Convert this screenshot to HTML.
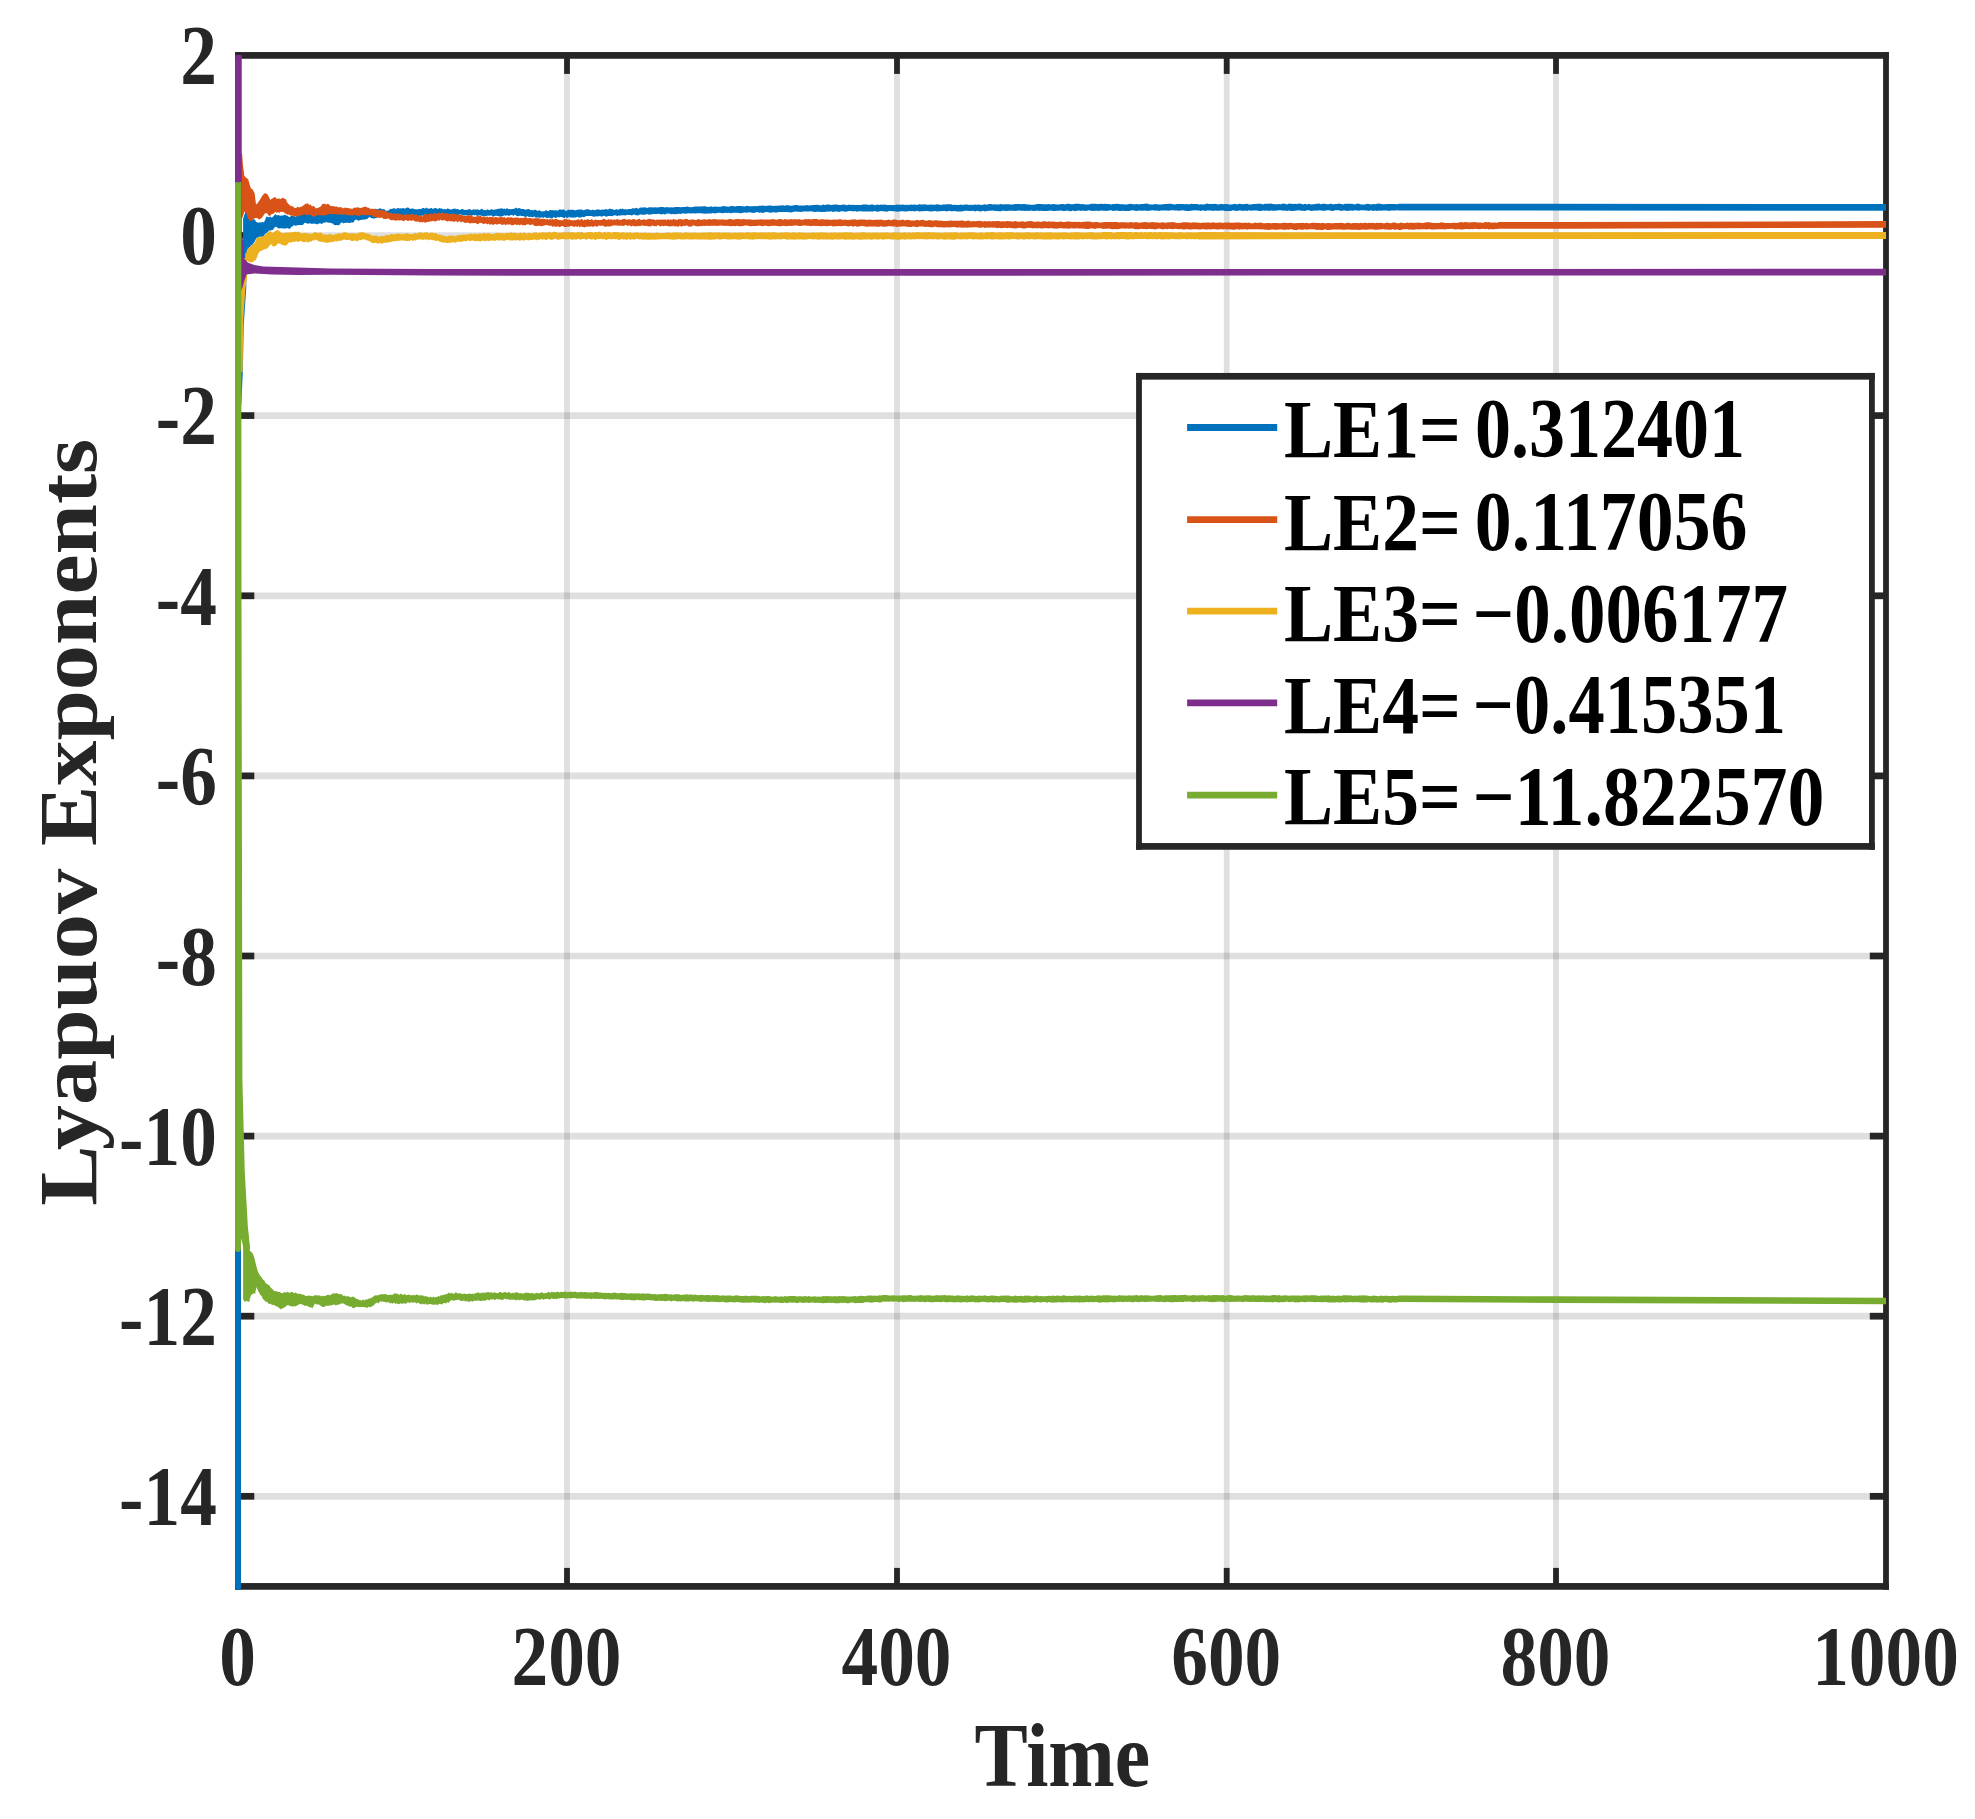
<!DOCTYPE html>
<html><head><meta charset="utf-8"><title>Lyapunov Exponents</title>
<style>
html,body{margin:0;padding:0;background:#fff;}
svg{display:block;}
.t{font-family:"Liberation Serif","DejaVu Serif",serif;font-weight:bold;fill:#262626;}
</style></head><body>
<svg width="1975" height="1819" viewBox="0 0 1975 1819">
<rect width="1975" height="1819" fill="#fff"/>
<line x1="567.0" x2="567.0" y1="55.4" y2="1586.4" stroke="#dfdfdf" stroke-width="5.8"/>
<line x1="897.0" x2="897.0" y1="55.4" y2="1586.4" stroke="#dfdfdf" stroke-width="5.8"/>
<line x1="1226.7" x2="1226.7" y1="55.4" y2="1586.4" stroke="#dfdfdf" stroke-width="5.8"/>
<line x1="1556.0" x2="1556.0" y1="55.4" y2="1586.4" stroke="#dfdfdf" stroke-width="5.8"/>
<line x1="238.1" x2="1886.0" y1="1496.3" y2="1496.3" stroke="#dfdfdf" stroke-width="6.7"/>
<line x1="238.1" x2="1886.0" y1="1316.2" y2="1316.2" stroke="#dfdfdf" stroke-width="6.7"/>
<line x1="238.1" x2="1886.0" y1="1136.1" y2="1136.1" stroke="#dfdfdf" stroke-width="6.7"/>
<line x1="238.1" x2="1886.0" y1="956.0" y2="956.0" stroke="#dfdfdf" stroke-width="6.7"/>
<line x1="238.1" x2="1886.0" y1="775.9" y2="775.9" stroke="#dfdfdf" stroke-width="6.7"/>
<line x1="238.1" x2="1886.0" y1="595.8" y2="595.8" stroke="#dfdfdf" stroke-width="6.7"/>
<line x1="238.1" x2="1886.0" y1="415.6" y2="415.6" stroke="#dfdfdf" stroke-width="6.7"/>
<line x1="238.1" x2="1886.0" y1="235.5" y2="235.5" stroke="#dfdfdf" stroke-width="6.7"/>
<rect x="564.1" y="1493.0" width="5.8" height="6.7" fill="#c4c4c4"/>
<rect x="564.1" y="1312.9" width="5.8" height="6.7" fill="#c4c4c4"/>
<rect x="564.1" y="1132.8" width="5.8" height="6.7" fill="#c4c4c4"/>
<rect x="564.1" y="952.6" width="5.8" height="6.7" fill="#c4c4c4"/>
<rect x="564.1" y="772.5" width="5.8" height="6.7" fill="#c4c4c4"/>
<rect x="564.1" y="592.4" width="5.8" height="6.7" fill="#c4c4c4"/>
<rect x="564.1" y="412.3" width="5.8" height="6.7" fill="#c4c4c4"/>
<rect x="564.1" y="232.2" width="5.8" height="6.7" fill="#c4c4c4"/>
<rect x="894.1" y="1493.0" width="5.8" height="6.7" fill="#c4c4c4"/>
<rect x="894.1" y="1312.9" width="5.8" height="6.7" fill="#c4c4c4"/>
<rect x="894.1" y="1132.8" width="5.8" height="6.7" fill="#c4c4c4"/>
<rect x="894.1" y="952.6" width="5.8" height="6.7" fill="#c4c4c4"/>
<rect x="894.1" y="772.5" width="5.8" height="6.7" fill="#c4c4c4"/>
<rect x="894.1" y="592.4" width="5.8" height="6.7" fill="#c4c4c4"/>
<rect x="894.1" y="412.3" width="5.8" height="6.7" fill="#c4c4c4"/>
<rect x="894.1" y="232.2" width="5.8" height="6.7" fill="#c4c4c4"/>
<rect x="1223.8" y="1493.0" width="5.8" height="6.7" fill="#c4c4c4"/>
<rect x="1223.8" y="1312.9" width="5.8" height="6.7" fill="#c4c4c4"/>
<rect x="1223.8" y="1132.8" width="5.8" height="6.7" fill="#c4c4c4"/>
<rect x="1223.8" y="952.6" width="5.8" height="6.7" fill="#c4c4c4"/>
<rect x="1223.8" y="772.5" width="5.8" height="6.7" fill="#c4c4c4"/>
<rect x="1223.8" y="592.4" width="5.8" height="6.7" fill="#c4c4c4"/>
<rect x="1223.8" y="412.3" width="5.8" height="6.7" fill="#c4c4c4"/>
<rect x="1223.8" y="232.2" width="5.8" height="6.7" fill="#c4c4c4"/>
<rect x="1553.1" y="1493.0" width="5.8" height="6.7" fill="#c4c4c4"/>
<rect x="1553.1" y="1312.9" width="5.8" height="6.7" fill="#c4c4c4"/>
<rect x="1553.1" y="1132.8" width="5.8" height="6.7" fill="#c4c4c4"/>
<rect x="1553.1" y="952.6" width="5.8" height="6.7" fill="#c4c4c4"/>
<rect x="1553.1" y="772.5" width="5.8" height="6.7" fill="#c4c4c4"/>
<rect x="1553.1" y="592.4" width="5.8" height="6.7" fill="#c4c4c4"/>
<rect x="1553.1" y="412.3" width="5.8" height="6.7" fill="#c4c4c4"/>
<rect x="1553.1" y="232.2" width="5.8" height="6.7" fill="#c4c4c4"/>
<line x1="567.0" x2="567.0" y1="1586.4" y2="1567.9" stroke="#262626" stroke-width="5.8"/>
<line x1="567.0" x2="567.0" y1="55.4" y2="73.9" stroke="#262626" stroke-width="5.8"/>
<line x1="897.0" x2="897.0" y1="1586.4" y2="1567.9" stroke="#262626" stroke-width="5.8"/>
<line x1="897.0" x2="897.0" y1="55.4" y2="73.9" stroke="#262626" stroke-width="5.8"/>
<line x1="1226.7" x2="1226.7" y1="1586.4" y2="1567.9" stroke="#262626" stroke-width="5.8"/>
<line x1="1226.7" x2="1226.7" y1="55.4" y2="73.9" stroke="#262626" stroke-width="5.8"/>
<line x1="1556.0" x2="1556.0" y1="1586.4" y2="1567.9" stroke="#262626" stroke-width="5.8"/>
<line x1="1556.0" x2="1556.0" y1="55.4" y2="73.9" stroke="#262626" stroke-width="5.8"/>
<line x1="238.1" x2="254.3" y1="1496.3" y2="1496.3" stroke="#262626" stroke-width="6.7"/>
<line x1="1886.0" x2="1869.8" y1="1496.3" y2="1496.3" stroke="#262626" stroke-width="6.7"/>
<line x1="238.1" x2="254.3" y1="1316.2" y2="1316.2" stroke="#262626" stroke-width="6.7"/>
<line x1="1886.0" x2="1869.8" y1="1316.2" y2="1316.2" stroke="#262626" stroke-width="6.7"/>
<line x1="238.1" x2="254.3" y1="1136.1" y2="1136.1" stroke="#262626" stroke-width="6.7"/>
<line x1="1886.0" x2="1869.8" y1="1136.1" y2="1136.1" stroke="#262626" stroke-width="6.7"/>
<line x1="238.1" x2="254.3" y1="956.0" y2="956.0" stroke="#262626" stroke-width="6.7"/>
<line x1="1886.0" x2="1869.8" y1="956.0" y2="956.0" stroke="#262626" stroke-width="6.7"/>
<line x1="238.1" x2="254.3" y1="775.9" y2="775.9" stroke="#262626" stroke-width="6.7"/>
<line x1="1886.0" x2="1869.8" y1="775.9" y2="775.9" stroke="#262626" stroke-width="6.7"/>
<line x1="238.1" x2="254.3" y1="595.8" y2="595.8" stroke="#262626" stroke-width="6.7"/>
<line x1="1886.0" x2="1869.8" y1="595.8" y2="595.8" stroke="#262626" stroke-width="6.7"/>
<line x1="238.1" x2="254.3" y1="415.6" y2="415.6" stroke="#262626" stroke-width="6.7"/>
<line x1="1886.0" x2="1869.8" y1="415.6" y2="415.6" stroke="#262626" stroke-width="6.7"/>
<line x1="238.1" x2="254.3" y1="235.5" y2="235.5" stroke="#262626" stroke-width="6.7"/>
<line x1="1886.0" x2="1869.8" y1="235.5" y2="235.5" stroke="#262626" stroke-width="6.7"/>
<rect x="235.20" y="52.05" width="1653.70" height="6.70" fill="#262626"/>
<rect x="235.20" y="1583.05" width="1653.70" height="6.70" fill="#262626"/>
<rect x="235.20" y="52.05" width="5.80" height="1537.70" fill="#262626"/>
<rect x="1883.10" y="52.05" width="5.80" height="1537.70" fill="#262626"/>
<line x1="238.1" x2="238.1" y1="1200.0" y2="1589.8" stroke="#0072bd" stroke-width="5.7"/>
<polygon fill="#0072bd" points="240.5,405 241.3,405 242.8,372 243.8,324 246.3,287.6 246.5,240 240.5,240"/>
<polygon fill="#0072bd" points="243.1,218.7 244.4,214.8 245.7,210.7 247.0,212.4 248.3,217.2 249.6,218.9 250.9,218.8 252.2,220.1 253.5,219.2 254.8,219.6 256.1,222.1 257.4,222.2 258.7,222.8 260.0,222.2 261.3,222.5 262.6,221.7 263.9,222.4 265.2,219.8 266.5,216.6 267.8,217.1 269.1,217.2 270.4,216.5 271.7,217.8 273.0,216.8 274.3,215.3 275.6,214.0 276.9,215.5 278.2,214.9 279.5,215.4 280.8,215.8 282.1,215.4 283.4,215.6 284.7,214.6 286.0,215.6 287.3,215.5 288.6,216.8 289.9,217.1 291.2,215.8 292.5,215.8 293.8,215.8 295.1,217.0 296.4,216.1 297.7,216.3 299.0,213.9 300.3,211.8 301.6,210.6 302.9,210.5 304.2,210.9 305.5,210.9 306.8,211.4 308.1,211.1 309.4,211.4 310.7,211.3 312.0,211.5 313.3,211.0 314.6,210.2 315.9,211.3 317.2,211.5 318.5,211.4 319.8,210.9 321.1,211.1 322.4,210.3 323.7,211.3 325.0,210.9 326.3,210.4 327.6,210.1 328.9,211.3 330.2,211.5 331.5,210.1 332.8,211.3 334.1,210.7 335.4,210.3 336.7,210.6 338.0,211.4 339.3,211.6 340.6,210.3 341.9,211.2 343.2,210.3 344.5,211.4 345.8,210.9 347.1,211.8 348.4,212.0 349.7,211.2 351.0,212.1 352.3,211.0 353.6,210.6 354.9,211.5 356.2,210.6 357.5,210.9 358.8,211.3 360.1,211.7 361.4,211.0 362.7,210.8 364.0,212.2 365.3,211.3 366.6,212.4 367.9,212.3 369.2,211.5 370.5,211.7 371.8,211.8 373.1,211.2 374.4,210.3 375.7,209.4 377.0,209.1 378.3,209.3 379.6,208.3 380.9,208.4 382.2,209.3 383.5,208.9 384.8,209.5 386.1,210.9 387.4,210.6 388.7,210.5 390.0,209.0 391.3,208.9 392.6,208.8 393.9,207.9 395.2,208.8 396.5,208.7 397.8,207.7 399.1,208.6 400.4,208.3 401.7,208.5 403.0,208.0 404.3,208.6 405.6,208.6 406.9,207.5 408.2,207.5 409.5,208.5 410.8,209.1 412.1,208.2 413.4,208.8 414.7,209.3 416.0,209.2 417.3,209.5 418.6,209.1 419.9,208.9 421.2,208.9 422.5,208.1 423.8,207.9 425.1,208.8 426.4,207.6 427.7,208.5 429.0,208.8 430.3,208.2 431.6,208.1 432.9,209.0 434.2,208.2 435.5,208.1 436.8,208.5 438.1,209.0 439.4,208.1 440.7,208.5 442.0,208.5 443.3,209.4 444.6,208.8 445.9,209.5 447.2,208.4 448.5,208.7 449.8,209.3 451.1,209.7 452.4,209.1 453.7,208.7 455.0,208.6 456.3,209.3 457.6,208.8 458.9,209.8 460.2,209.9 461.5,208.9 462.8,209.1 464.1,210.0 465.4,209.8 466.7,210.1 468.0,209.4 469.3,209.1 470.6,209.4 471.9,210.2 473.2,209.3 474.5,209.4 475.8,209.5 477.1,209.5 478.4,209.4 479.7,210.2 481.0,209.0 482.3,208.7 483.6,210.2 484.9,210.1 486.2,210.2 487.5,209.3 488.8,210.1 490.1,210.0 491.4,208.9 492.7,209.7 494.0,209.8 495.3,209.5 496.6,209.2 497.9,208.8 499.2,208.8 500.5,208.6 501.8,208.3 503.1,209.0 504.4,208.5 505.7,209.2 507.0,208.0 508.3,209.3 509.6,208.9 510.9,209.2 512.2,209.1 513.5,209.0 514.8,208.4 516.1,207.5 517.4,208.7 518.7,208.0 520.0,208.3 521.3,209.0 522.6,208.9 523.9,208.9 525.2,209.8 526.5,209.4 527.8,209.1 529.1,209.1 530.4,210.2 531.7,209.7 533.0,210.4 534.3,209.8 535.6,209.7 536.9,210.4 538.2,210.9 539.5,210.0 540.8,211.2 542.1,211.4 543.4,211.2 544.7,211.2 546.0,209.9 547.3,210.8 548.6,211.2 549.9,209.8 551.2,210.2 552.5,210.1 553.8,210.5 555.1,210.3 556.4,210.3 557.7,210.8 559.0,209.5 560.3,209.6 561.6,209.7 562.9,209.6 564.2,209.5 565.5,211.0 566.8,210.7 568.1,209.5 569.4,210.1 570.7,209.8 572.0,209.8 573.3,209.8 574.6,210.3 575.9,210.2 577.2,209.8 578.5,209.5 579.8,209.7 581.1,209.3 582.4,210.0 583.7,210.2 585.0,209.7 586.3,209.2 587.6,209.3 588.9,209.6 590.2,209.9 591.5,210.2 592.8,209.5 594.1,210.2 595.4,209.9 596.7,209.5 598.0,209.4 599.3,209.6 600.6,209.9 601.9,209.4 603.2,209.8 604.5,209.4 605.8,209.0 607.1,209.4 608.4,209.6 609.7,208.6 611.0,209.1 612.3,209.1 613.6,209.8 614.9,209.9 616.2,208.9 617.5,209.7 618.8,209.5 620.1,208.7 621.4,208.9 622.7,208.4 624.0,209.4 625.3,209.1 626.6,209.5 627.9,209.3 629.2,209.0 630.5,209.1 631.8,208.8 633.1,208.0 634.4,208.8 635.7,207.8 637.0,208.0 638.3,209.0 639.6,207.8 641.0,207.6 643.0,207.6 645.0,207.2 647.0,208.1 649.0,207.3 651.0,207.2 653.0,207.5 655.0,207.2 657.0,207.6 659.0,207.3 661.0,207.1 663.0,207.0 665.0,207.5 667.0,207.1 669.0,207.5 671.0,207.2 673.0,207.6 675.0,207.0 677.0,206.9 679.0,206.9 681.0,207.3 683.0,207.1 685.0,206.9 687.0,206.6 689.0,207.1 691.0,207.3 693.0,206.9 695.0,206.4 697.0,206.4 699.0,206.4 701.0,206.4 703.0,206.3 705.0,206.3 707.0,206.8 709.0,207.0 711.0,206.3 713.0,207.0 715.0,206.5 717.0,206.8 719.0,206.8 721.0,206.8 723.0,206.0 725.0,206.2 727.0,206.4 729.0,206.7 731.0,205.9 733.0,206.1 735.0,206.5 737.0,205.9 739.0,206.1 741.0,206.0 743.0,206.3 745.0,206.5 747.0,205.8 749.0,206.2 751.0,206.2 753.0,206.3 755.0,206.0 757.0,206.3 759.0,205.8 761.0,205.8 763.0,205.6 765.0,206.1 767.0,205.8 769.0,205.5 771.0,205.4 773.0,205.9 775.0,205.7 777.0,205.8 779.0,205.5 781.0,205.6 783.0,205.2 785.0,205.7 787.0,205.1 789.0,205.4 791.0,205.7 793.0,205.6 795.0,205.0 797.0,205.1 799.0,205.6 801.0,205.4 803.0,205.6 805.0,205.6 807.0,205.1 809.0,205.5 811.0,205.3 813.0,205.0 815.0,205.0 817.0,204.7 819.0,204.9 821.0,205.4 823.0,204.6 825.0,205.0 827.0,204.6 829.0,204.6 831.0,205.1 833.0,204.7 835.0,204.5 837.0,204.6 839.0,205.1 841.0,205.0 843.0,204.5 845.0,204.7 847.0,205.3 849.0,204.6 851.0,204.9 853.0,204.8 855.0,205.1 857.0,205.0 859.0,205.1 861.0,204.9 863.0,204.6 865.0,204.6 867.0,204.5 869.0,205.1 871.0,204.5 873.0,204.4 875.0,205.2 877.0,204.5 879.0,205.1 881.0,204.4 883.0,204.8 885.0,204.5 887.0,205.1 889.0,204.9 891.0,204.9 893.0,205.0 895.0,205.1 897.0,204.6 899.0,204.8 901.0,204.7 903.0,204.4 905.0,205.0 907.0,204.8 909.0,205.0 911.0,204.4 913.0,204.7 915.0,204.6 917.0,204.9 919.0,204.3 921.0,204.5 923.0,204.6 925.0,204.3 927.0,204.7 929.0,204.8 931.0,204.5 933.0,204.7 935.0,204.7 937.0,204.3 939.0,204.5 941.0,205.0 943.0,204.4 945.0,204.5 947.0,204.2 949.0,204.3 951.0,204.2 953.0,204.9 955.0,204.7 957.0,204.9 959.0,205.0 961.0,204.6 963.0,204.9 965.0,204.5 967.0,204.4 969.0,204.9 971.0,204.8 973.0,204.9 975.0,204.4 977.0,204.7 979.0,204.4 981.0,204.9 983.0,204.8 985.0,204.2 987.0,204.8 989.0,204.1 991.0,204.0 993.0,204.6 995.0,204.2 997.0,204.4 999.0,204.5 1001.0,204.0 1003.0,204.6 1005.0,204.2 1007.0,204.3 1009.0,204.2 1011.0,204.6 1013.0,204.6 1015.0,204.1 1017.0,204.0 1019.0,204.1 1021.0,204.2 1023.0,203.9 1025.0,204.0 1027.0,204.5 1029.0,204.5 1031.0,204.7 1033.0,204.7 1035.0,204.6 1037.0,204.1 1039.0,203.9 1041.0,204.1 1043.0,204.2 1045.0,204.2 1047.0,204.3 1049.0,204.1 1051.0,204.5 1053.0,204.0 1055.0,204.2 1057.0,204.5 1059.0,204.4 1061.0,204.0 1063.0,203.9 1065.0,204.4 1067.0,203.7 1069.0,203.8 1071.0,204.2 1073.0,204.2 1075.0,203.8 1077.0,203.7 1079.0,203.8 1081.0,204.3 1083.0,204.1 1085.0,204.5 1087.0,204.4 1089.0,204.5 1091.0,203.7 1093.0,203.8 1095.0,203.7 1097.0,204.0 1099.0,203.9 1101.0,203.7 1103.0,204.1 1105.0,203.7 1107.0,203.9 1109.0,203.9 1111.0,204.4 1113.0,204.0 1115.0,203.9 1117.0,203.7 1119.0,204.0 1121.0,204.2 1123.0,204.2 1125.0,204.5 1127.0,204.4 1129.0,203.9 1131.0,203.8 1133.0,204.3 1135.0,204.3 1137.0,204.1 1139.0,204.4 1141.0,204.1 1143.0,203.9 1145.0,203.8 1147.0,203.6 1149.0,204.2 1151.0,204.4 1153.0,204.4 1155.0,204.0 1157.0,204.2 1159.0,204.5 1161.0,204.4 1163.0,204.2 1165.0,204.0 1167.0,204.1 1169.0,203.8 1171.0,203.8 1173.0,204.2 1175.0,204.5 1177.0,204.1 1179.0,204.0 1181.0,203.9 1183.0,204.0 1185.0,204.3 1187.0,204.0 1189.0,204.5 1191.0,203.7 1193.0,203.9 1195.0,204.1 1197.0,204.0 1199.0,204.4 1201.0,204.3 1203.0,204.4 1205.0,204.2 1207.0,203.6 1209.0,204.1 1211.0,204.1 1213.0,204.0 1215.0,203.8 1217.0,204.2 1219.0,204.4 1221.0,203.7 1223.0,204.2 1225.0,203.9 1227.0,204.1 1229.0,204.4 1231.0,204.5 1233.0,204.2 1235.0,203.8 1237.0,204.4 1239.0,203.8 1241.0,203.9 1243.0,204.3 1245.0,203.9 1247.0,203.8 1249.0,204.4 1251.0,204.4 1253.0,203.9 1255.0,203.9 1257.0,203.8 1259.0,203.7 1261.0,203.8 1263.0,204.5 1265.0,203.7 1267.0,203.8 1269.0,203.8 1271.0,203.6 1273.0,204.0 1275.0,204.2 1277.0,204.3 1279.0,204.1 1281.0,204.3 1283.0,203.6 1285.0,203.8 1287.0,204.4 1289.0,203.6 1291.0,203.8 1293.0,204.0 1295.0,203.8 1297.0,204.1 1299.0,203.6 1301.0,203.8 1303.0,204.4 1305.0,203.7 1307.0,204.4 1309.0,203.7 1311.0,204.5 1313.0,204.2 1315.0,204.1 1317.0,203.7 1319.0,203.6 1321.0,204.2 1323.0,203.7 1325.0,203.7 1327.0,204.3 1329.0,204.3 1331.0,203.6 1333.0,204.4 1335.0,204.0 1337.0,203.9 1339.0,203.6 1341.0,203.9 1343.0,204.4 1345.0,203.8 1347.0,203.7 1349.0,203.7 1351.0,203.7 1353.0,203.9 1355.0,204.4 1357.0,203.6 1359.0,203.7 1361.0,204.4 1363.0,204.5 1365.0,204.4 1367.0,203.8 1369.0,203.9 1371.0,204.4 1373.0,204.0 1375.0,204.2 1377.0,203.8 1379.0,203.6 1381.0,203.9 1383.0,204.2 1385.0,204.3 1387.0,204.1 1389.0,204.0 1391.0,204.0 1393.0,204.0 1395.0,204.0 1397.0,204.3 1399.0,203.7 1886.0,204.1 1886.0,210.7 1399.0,210.4 1397.0,210.2 1395.0,210.5 1393.0,210.4 1391.0,210.5 1389.0,210.9 1387.0,210.6 1385.0,210.4 1383.0,210.5 1381.0,210.8 1379.0,210.6 1377.0,210.9 1375.0,210.5 1373.0,210.9 1371.0,210.2 1369.0,211.0 1367.0,210.4 1365.0,210.6 1363.0,210.2 1361.0,210.3 1359.0,210.8 1357.0,210.4 1355.0,210.2 1353.0,210.8 1351.0,210.4 1349.0,210.7 1347.0,211.0 1345.0,210.6 1343.0,210.5 1341.0,210.9 1339.0,210.2 1337.0,210.2 1335.0,210.3 1333.0,210.9 1331.0,210.7 1329.0,210.3 1327.0,210.3 1325.0,210.7 1323.0,210.8 1321.0,210.6 1319.0,210.3 1317.0,210.8 1315.0,210.6 1313.0,210.8 1311.0,211.0 1309.0,210.3 1307.0,210.3 1305.0,211.0 1303.0,210.8 1301.0,210.7 1299.0,210.2 1297.0,210.5 1295.0,210.8 1293.0,210.9 1291.0,211.0 1289.0,210.6 1287.0,210.9 1285.0,210.4 1283.0,210.7 1281.0,210.3 1279.0,210.2 1277.0,210.5 1275.0,210.7 1273.0,210.7 1271.0,210.4 1269.0,210.9 1267.0,210.6 1265.0,210.8 1263.0,210.6 1261.0,210.9 1259.0,211.0 1257.0,210.5 1255.0,210.6 1253.0,210.4 1251.0,210.8 1249.0,210.3 1247.0,210.9 1245.0,210.5 1243.0,211.1 1241.0,210.6 1239.0,210.4 1237.0,210.9 1235.0,210.8 1233.0,210.3 1231.0,211.0 1229.0,210.9 1227.0,210.9 1225.0,211.1 1223.0,210.4 1221.0,210.4 1219.0,210.7 1217.0,210.7 1215.0,210.4 1213.0,211.1 1211.0,210.4 1209.0,210.6 1207.0,210.6 1205.0,211.1 1203.0,210.3 1201.0,211.1 1199.0,210.5 1197.0,210.5 1195.0,210.3 1193.0,210.6 1191.0,210.7 1189.0,211.0 1187.0,211.0 1185.0,210.7 1183.0,210.3 1181.0,210.4 1179.0,210.7 1177.0,210.4 1175.0,210.6 1173.0,210.3 1171.0,210.3 1169.0,210.7 1167.0,210.6 1165.0,210.4 1163.0,210.6 1161.0,210.4 1159.0,210.9 1157.0,210.5 1155.0,210.7 1153.0,210.3 1151.0,210.6 1149.0,210.7 1147.0,210.9 1145.0,210.4 1143.0,210.7 1141.0,210.7 1139.0,210.5 1137.0,210.9 1135.0,210.8 1133.0,210.2 1131.0,210.5 1129.0,210.9 1127.0,211.0 1125.0,211.1 1123.0,210.7 1121.0,211.0 1119.0,211.0 1117.0,210.5 1115.0,210.7 1113.0,210.9 1111.0,210.3 1109.0,210.4 1107.0,211.0 1105.0,210.8 1103.0,210.7 1101.0,210.6 1099.0,211.0 1097.0,210.7 1095.0,210.7 1093.0,211.0 1091.0,210.7 1089.0,210.3 1087.0,210.8 1085.0,210.9 1083.0,210.6 1081.0,210.9 1079.0,210.4 1077.0,210.7 1075.0,211.2 1073.0,210.6 1071.0,211.2 1069.0,211.0 1067.0,210.5 1065.0,210.9 1063.0,211.1 1061.0,210.6 1059.0,210.8 1057.0,210.8 1055.0,211.1 1053.0,211.1 1051.0,210.4 1049.0,210.8 1047.0,210.9 1045.0,210.9 1043.0,210.9 1041.0,210.7 1039.0,211.1 1037.0,210.6 1035.0,211.0 1033.0,211.0 1031.0,210.6 1029.0,211.1 1027.0,210.7 1025.0,210.9 1023.0,210.8 1021.0,210.7 1019.0,210.6 1017.0,210.8 1015.0,211.1 1013.0,210.7 1011.0,210.7 1009.0,210.7 1007.0,210.9 1005.0,210.9 1003.0,210.6 1001.0,211.3 999.0,211.3 997.0,210.9 995.0,211.0 993.0,210.6 991.0,210.7 989.0,210.8 987.0,210.9 985.0,211.4 983.0,210.7 981.0,211.4 979.0,211.3 977.0,210.8 975.0,211.4 973.0,210.8 971.0,210.9 969.0,211.0 967.0,210.7 965.0,210.8 963.0,211.3 961.0,211.4 959.0,211.5 957.0,211.4 955.0,211.0 953.0,211.2 951.0,211.2 949.0,210.8 947.0,211.5 945.0,211.0 943.0,210.9 941.0,211.2 939.0,211.3 937.0,211.6 935.0,211.0 933.0,211.2 931.0,211.5 929.0,211.2 927.0,211.0 925.0,210.9 923.0,211.3 921.0,211.3 919.0,211.6 917.0,210.8 915.0,211.4 913.0,210.9 911.0,211.2 909.0,211.0 907.0,211.6 905.0,211.4 903.0,211.2 901.0,211.2 899.0,211.6 897.0,211.7 895.0,211.3 893.0,211.3 891.0,210.9 889.0,211.0 887.0,211.8 885.0,211.6 883.0,211.3 881.0,211.0 879.0,211.6 877.0,211.8 875.0,211.0 873.0,211.4 871.0,211.6 869.0,211.5 867.0,211.4 865.0,211.5 863.0,211.4 861.0,211.3 859.0,211.2 857.0,211.8 855.0,211.0 853.0,211.4 851.0,211.1 849.0,211.1 847.0,211.6 845.0,211.8 843.0,211.2 841.0,211.3 839.0,211.9 837.0,211.5 835.0,211.4 833.0,211.9 831.0,211.2 829.0,211.7 827.0,211.5 825.0,212.0 823.0,211.9 821.0,211.9 819.0,211.8 817.0,211.7 815.0,212.1 813.0,211.7 811.0,211.3 809.0,211.6 807.0,211.6 805.0,211.4 803.0,211.5 801.0,212.0 799.0,211.8 797.0,211.7 795.0,211.6 793.0,212.1 791.0,212.4 789.0,212.2 787.0,212.0 785.0,212.0 783.0,212.1 781.0,212.0 779.0,212.1 777.0,212.4 775.0,212.6 773.0,212.2 771.0,212.7 769.0,212.4 767.0,212.1 765.0,212.3 763.0,212.9 761.0,212.4 759.0,212.8 757.0,212.1 755.0,212.8 753.0,212.9 751.0,212.5 749.0,212.2 747.0,212.8 745.0,212.6 743.0,212.7 741.0,213.2 739.0,213.1 737.0,212.8 735.0,212.8 733.0,212.8 731.0,213.3 729.0,212.7 727.0,213.1 725.0,212.8 723.0,213.2 721.0,213.0 719.0,212.7 717.0,212.9 715.0,213.6 713.0,213.0 711.0,213.5 709.0,213.5 707.0,213.6 705.0,213.7 703.0,213.4 701.0,213.2 699.0,213.2 697.0,213.3 695.0,213.5 693.0,213.3 691.0,213.6 689.0,213.2 687.0,213.6 685.0,213.7 683.0,213.3 681.0,214.0 679.0,213.8 677.0,214.0 675.0,214.3 673.0,214.1 671.0,214.2 669.0,213.5 667.0,213.6 665.0,214.4 663.0,214.0 661.0,214.5 659.0,213.7 657.0,213.9 655.0,214.0 653.0,214.0 651.0,214.6 649.0,214.7 647.0,214.1 645.0,214.7 643.0,214.8 641.0,214.6 639.6,214.5 638.3,215.6 637.0,215.2 635.7,215.3 634.4,214.6 633.1,214.7 631.8,215.4 630.5,215.0 629.2,214.9 627.9,214.8 626.6,215.1 625.3,215.5 624.0,215.2 622.7,215.3 621.4,215.3 620.1,215.8 618.8,215.3 617.5,216.3 616.2,215.5 614.9,215.2 613.6,215.5 612.3,216.2 611.0,216.1 609.7,215.9 608.4,215.9 607.1,216.5 605.8,216.8 604.5,215.7 603.2,216.1 601.9,216.7 600.6,216.3 599.3,216.0 598.0,216.6 596.7,216.3 595.4,216.5 594.1,216.8 592.8,216.5 591.5,216.0 590.2,216.1 588.9,216.0 587.6,216.0 586.3,216.1 585.0,216.7 583.7,217.2 582.4,216.8 581.1,217.5 579.8,217.6 578.5,217.5 577.2,216.8 575.9,217.5 574.6,217.5 573.3,217.8 572.0,217.4 570.7,217.8 569.4,216.7 568.1,217.6 566.8,218.0 565.5,217.1 564.2,218.2 562.9,217.6 561.6,216.9 560.3,217.1 559.0,217.4 557.7,216.9 556.4,217.8 555.1,218.1 553.8,217.1 552.5,218.3 551.2,218.4 549.9,217.8 548.6,217.7 547.3,218.0 546.0,217.8 544.7,217.1 543.4,217.9 542.1,217.3 540.8,217.7 539.5,217.7 538.2,217.5 536.9,217.6 535.6,217.7 534.3,216.3 533.0,217.4 531.7,217.0 530.4,216.7 529.1,217.2 527.8,216.2 526.5,216.6 525.2,217.0 523.9,216.3 522.6,216.1 521.3,215.9 520.0,215.5 518.7,216.3 517.4,216.1 516.1,215.8 514.8,214.6 513.5,215.9 512.2,215.1 510.9,215.1 509.6,215.8 508.3,215.8 507.0,215.3 505.7,215.7 504.4,215.3 503.1,216.1 501.8,216.4 500.5,216.6 499.2,216.6 497.9,216.1 496.6,215.8 495.3,215.8 494.0,216.6 492.7,216.6 491.4,215.5 490.1,215.5 488.8,215.7 487.5,215.4 486.2,216.5 484.9,215.7 483.6,216.3 482.3,215.9 481.0,215.6 479.7,215.4 478.4,215.4 477.1,216.0 475.8,215.1 474.5,215.5 473.2,214.7 471.9,216.0 470.6,215.1 469.3,214.9 468.0,215.0 466.7,215.6 465.4,215.3 464.1,215.6 462.8,215.5 461.5,214.5 460.2,214.6 458.9,214.8 457.6,215.0 456.3,215.3 455.0,215.1 453.7,215.2 452.4,215.4 451.1,214.7 449.8,214.4 448.5,215.6 447.2,214.3 445.9,215.2 444.6,215.5 443.3,214.3 442.0,215.0 440.7,215.1 439.4,214.3 438.1,215.0 436.8,215.2 435.5,215.3 434.2,214.7 432.9,215.0 431.6,214.4 430.3,215.1 429.0,215.4 427.7,215.9 426.4,215.6 425.1,214.8 423.8,215.7 422.5,215.5 421.2,216.1 419.9,215.5 418.6,216.3 417.3,216.3 416.0,215.7 414.7,216.6 413.4,215.3 412.1,216.6 410.8,216.6 409.5,215.4 408.2,216.3 406.9,215.7 405.6,215.4 404.3,216.1 403.0,215.9 401.7,216.8 400.4,216.2 399.1,215.6 397.8,216.1 396.5,216.0 395.2,215.9 393.9,215.4 392.6,216.5 391.3,216.3 390.0,216.0 388.7,215.9 387.4,216.8 386.1,215.6 384.8,215.6 383.5,216.7 382.2,216.2 380.9,216.2 379.6,217.3 378.3,216.5 377.0,217.8 375.7,218.0 374.4,218.6 373.1,218.6 371.8,218.3 370.5,217.4 369.2,217.1 367.9,218.6 366.6,219.2 365.3,219.3 364.0,219.8 362.7,219.5 361.4,219.9 360.1,220.1 358.8,220.7 357.5,220.2 356.2,219.4 354.9,220.0 353.6,222.5 352.3,222.4 351.0,222.6 349.7,223.1 348.4,223.1 347.1,222.6 345.8,222.9 344.5,222.7 343.2,223.6 341.9,222.3 340.6,223.3 339.3,225.2 338.0,225.2 336.7,224.9 335.4,225.3 334.1,224.9 332.8,223.6 331.5,223.3 330.2,222.8 328.9,222.8 327.6,222.6 326.3,222.0 325.0,222.8 323.7,222.4 322.4,223.8 321.1,223.7 319.8,223.3 318.5,223.8 317.2,224.5 315.9,223.8 314.6,223.7 313.3,223.4 312.0,224.0 310.7,223.4 309.4,223.3 308.1,223.8 306.8,223.4 305.5,222.7 304.2,223.3 302.9,224.9 301.6,224.9 300.3,224.9 299.0,224.9 297.7,225.2 296.4,225.6 295.1,225.7 293.8,225.1 292.5,226.6 291.2,227.0 289.9,228.9 288.6,228.5 287.3,227.9 286.0,228.6 284.7,228.6 283.4,228.6 282.1,228.3 280.8,228.2 279.5,228.6 278.2,228.3 276.9,227.3 275.6,226.8 274.3,227.8 273.0,229.7 271.7,230.2 270.4,230.5 269.1,230.4 267.8,232.1 266.5,233.0 265.2,233.4 263.9,235.8 262.6,236.4 261.3,237.1 260.0,236.2 258.7,237.6 257.4,237.5 256.1,238.4 254.8,241.5 253.5,243.3 252.2,245.1 250.9,245.5 249.6,248.2 248.3,248.4 247.0,250.2 245.7,256.2 244.4,254.1 243.1,249.3"/>
<polygon fill="#d95319" points="239.5,153.5 242.1,154.1 243.0,165.3 244.3,175.8 245.6,177.3 246.9,178.2 248.2,179.2 249.5,184.1 250.8,188.0 252.1,188.9 253.4,190.7 254.7,193.5 256.0,204.4 257.3,203.5 258.6,201.7 259.9,199.8 261.2,197.5 262.5,195.4 263.8,194.0 265.1,193.0 266.4,193.8 267.7,194.4 269.0,197.3 270.3,200.0 271.6,198.8 272.9,198.2 274.2,197.3 275.5,197.0 276.8,199.1 278.1,198.4 279.4,198.5 280.7,199.3 282.0,197.7 283.3,198.1 284.6,198.8 285.9,199.3 287.2,202.5 288.5,204.0 289.8,205.2 291.1,206.3 292.4,205.9 293.7,207.3 295.0,207.9 296.3,207.9 297.6,206.5 298.9,207.5 300.2,206.9 301.5,206.8 302.8,205.7 304.1,204.9 305.4,203.8 306.7,203.8 308.0,203.3 309.3,205.2 310.6,204.3 311.9,206.5 313.2,206.0 314.5,206.6 315.8,208.5 317.1,207.9 318.4,207.8 319.7,206.9 321.0,206.2 322.3,204.1 323.6,203.9 324.9,203.5 326.2,204.7 327.5,203.7 328.8,204.3 330.1,205.7 331.4,206.3 332.7,205.8 334.0,206.5 335.3,206.6 336.6,206.6 337.9,207.0 339.2,207.6 340.5,207.0 341.8,207.6 343.1,208.4 344.4,207.6 345.7,208.0 347.0,207.7 348.3,207.9 349.6,208.4 350.9,208.6 352.2,208.9 353.5,208.1 354.8,207.6 356.1,207.7 357.4,207.2 358.7,207.5 360.0,207.9 361.3,207.9 362.6,207.2 363.9,206.9 365.2,206.6 366.5,206.9 367.8,207.7 369.1,207.7 370.4,209.0 371.7,208.8 373.0,208.7 374.3,209.0 375.6,208.6 376.9,209.9 378.2,210.1 379.5,209.7 380.8,210.4 382.1,209.9 383.4,210.3 384.7,210.7 386.0,211.0 387.3,212.0 388.6,212.5 389.9,213.0 391.2,212.4 392.5,213.8 393.8,213.4 395.1,213.4 396.4,213.7 397.7,213.8 399.0,213.5 400.3,214.0 401.6,214.5 402.9,214.6 404.2,214.9 405.5,213.6 406.8,214.7 408.1,214.5 409.4,214.3 410.7,214.6 412.0,213.2 413.3,214.4 414.6,214.9 415.9,213.9 417.2,214.9 418.5,215.8 419.8,215.0 421.1,216.1 422.4,216.5 423.7,214.6 425.0,214.0 426.3,213.9 427.6,214.8 428.9,214.0 430.2,213.6 431.5,213.7 432.8,214.3 434.1,213.1 435.4,212.6 436.7,213.9 438.0,212.8 439.3,212.7 440.6,213.6 441.9,212.6 443.2,212.4 444.5,213.8 445.8,212.9 447.1,213.0 448.4,214.3 449.7,213.3 451.0,214.5 452.3,213.7 453.6,213.8 454.9,213.8 456.2,214.4 457.5,214.6 458.8,214.5 460.1,214.8 461.4,214.6 462.7,215.6 464.0,215.9 465.3,215.7 466.6,215.9 467.9,214.9 469.2,215.3 470.5,215.3 471.8,215.3 473.1,216.7 474.4,216.7 475.7,216.8 477.0,216.3 478.3,215.7 479.6,216.3 480.9,215.8 482.2,217.2 483.5,216.3 484.8,216.4 486.1,217.6 487.4,216.4 488.7,217.6 490.0,216.7 491.3,217.3 492.6,216.5 493.9,217.8 495.2,217.0 496.5,217.0 497.8,217.6 499.1,217.5 500.4,217.0 501.7,216.9 503.0,217.6 504.3,216.8 505.6,218.2 506.9,217.4 508.2,217.2 509.5,217.5 510.8,217.2 512.1,217.6 513.4,217.9 514.7,217.7 516.0,217.6 517.3,217.5 518.6,217.8 519.9,218.3 521.2,217.7 522.5,218.3 523.8,217.8 525.1,217.2 526.4,217.3 527.7,218.5 529.0,218.0 530.3,217.9 531.6,218.2 532.9,218.8 534.2,218.2 535.5,218.2 536.8,218.3 538.1,217.9 539.4,218.8 540.7,218.8 542.0,218.9 543.3,218.8 544.6,218.9 545.9,219.4 547.2,218.6 548.5,219.9 549.8,218.5 551.1,219.8 552.4,218.7 553.7,219.8 555.0,218.9 556.3,218.7 557.6,219.5 558.9,220.0 560.2,220.1 561.5,220.2 562.8,220.3 564.1,218.9 565.4,219.4 566.7,219.0 568.0,220.1 569.3,219.6 570.6,220.1 571.9,220.2 573.2,220.5 574.5,220.0 575.8,220.3 577.1,219.8 578.4,219.1 579.7,220.4 581.0,219.1 582.3,219.2 583.6,220.4 584.9,219.5 586.2,220.1 587.5,219.1 588.8,219.4 590.1,220.2 591.4,219.1 592.7,219.8 594.0,220.5 595.3,219.3 596.6,220.1 597.9,220.1 599.2,219.9 600.5,220.1 601.8,220.0 603.1,218.8 604.4,219.1 605.7,219.6 607.0,220.3 608.3,219.1 609.6,219.7 610.9,218.9 612.2,220.0 613.5,219.4 614.8,219.5 616.1,219.7 617.4,218.8 618.7,219.8 620.0,219.8 621.3,219.9 622.6,219.0 623.9,219.0 625.2,218.8 626.5,220.0 627.8,219.3 629.1,219.2 630.4,219.4 631.7,219.7 633.0,219.1 634.3,219.1 635.6,219.8 636.9,219.9 638.2,219.1 639.5,218.7 640.8,220.1 642.1,219.8 643.4,219.6 644.7,219.3 646.0,220.2 647.3,219.3 648.6,219.0 649.9,218.8 651.2,219.2 652.5,219.6 653.8,219.2 655.1,220.2 656.4,219.7 657.7,219.4 659.0,219.7 660.3,219.6 661.6,219.7 662.9,219.5 664.2,219.5 665.5,219.5 666.8,220.0 668.1,219.0 669.4,220.0 670.7,219.2 672.0,220.1 673.3,218.8 674.6,219.5 675.9,219.4 677.2,219.9 678.5,219.1 679.8,219.2 681.1,219.0 682.4,219.6 683.7,219.7 685.0,218.8 686.3,219.0 687.6,219.1 688.9,220.3 690.2,219.5 691.5,219.7 692.8,219.2 694.1,219.8 695.4,220.1 696.7,219.9 698.0,218.8 699.3,219.5 701.0,219.7 703.0,219.6 705.0,219.3 707.0,219.7 709.0,219.1 711.0,219.6 713.0,219.2 715.0,219.1 717.0,219.4 719.0,219.5 721.0,219.6 723.0,219.3 725.0,219.8 727.0,219.7 729.0,219.1 731.0,219.0 733.0,219.8 735.0,219.3 737.0,219.1 739.0,219.1 741.0,219.6 743.0,219.1 745.0,219.3 747.0,219.6 749.0,219.3 751.0,219.5 753.0,219.8 755.0,219.7 757.0,219.5 759.0,219.5 761.0,219.2 763.0,219.5 765.0,219.5 767.0,219.4 769.0,219.4 771.0,219.6 773.0,219.1 775.0,219.5 777.0,219.8 779.0,218.9 781.0,219.1 783.0,219.8 785.0,219.0 787.0,219.6 789.0,219.4 791.0,218.9 793.0,219.4 795.0,218.9 797.0,219.6 799.0,219.1 801.0,219.7 803.0,219.7 805.0,219.0 807.0,219.3 809.0,219.0 811.0,219.6 813.0,219.0 815.0,219.0 817.0,219.1 819.0,219.7 821.0,219.2 823.0,219.3 825.0,219.4 827.0,219.5 829.0,219.4 831.0,219.9 833.0,219.4 835.0,219.5 837.0,219.8 839.0,219.3 841.0,219.3 843.0,219.9 845.0,219.4 847.0,219.9 849.0,219.9 851.0,219.5 853.0,219.5 855.0,219.3 857.0,220.0 859.0,219.6 861.0,219.5 863.0,219.4 865.0,219.4 867.0,220.0 869.0,219.4 871.0,219.8 873.0,219.9 875.0,219.8 877.0,219.8 879.0,219.7 881.0,219.5 883.0,220.1 885.0,220.2 887.0,219.9 889.0,219.6 891.0,220.2 893.0,219.6 895.0,219.6 897.0,220.0 899.0,220.2 901.0,220.0 903.0,219.6 905.0,220.4 907.0,219.7 909.0,219.9 911.0,220.5 913.0,220.4 915.0,220.4 917.0,219.8 919.0,220.5 921.0,220.1 923.0,219.8 925.0,220.5 927.0,220.7 929.0,219.9 931.0,220.3 933.0,220.7 935.0,220.3 937.0,220.3 939.0,220.7 941.0,220.5 943.0,221.0 945.0,220.9 947.0,220.9 949.0,220.8 951.0,220.4 953.0,220.8 955.0,220.8 957.0,220.7 959.0,220.8 961.0,220.6 963.0,220.6 965.0,221.2 967.0,220.8 969.0,220.6 971.0,221.4 973.0,221.0 975.0,221.2 977.0,220.9 979.0,220.7 981.0,220.9 983.0,221.4 985.0,220.9 987.0,221.6 989.0,221.0 991.0,221.6 993.0,221.0 995.0,221.2 997.0,221.0 999.0,221.0 1001.0,221.4 1003.0,221.2 1005.0,221.4 1007.0,221.1 1009.0,221.2 1011.0,221.3 1013.0,221.8 1015.0,221.1 1017.0,221.4 1019.0,221.8 1021.0,221.6 1023.0,221.3 1025.0,222.0 1027.0,221.2 1029.0,221.2 1031.0,221.1 1033.0,221.5 1035.0,221.9 1037.0,221.4 1039.0,221.4 1041.0,221.9 1043.0,221.3 1045.0,221.2 1047.0,221.8 1049.0,221.3 1051.0,221.7 1053.0,221.4 1055.0,221.8 1057.0,222.1 1059.0,221.7 1061.0,221.6 1063.0,221.9 1065.0,222.0 1067.0,221.4 1069.0,221.6 1071.0,221.7 1073.0,221.9 1075.0,221.7 1077.0,222.0 1079.0,221.7 1081.0,222.3 1083.0,221.8 1085.0,221.7 1087.0,221.6 1089.0,221.6 1091.0,221.7 1093.0,222.4 1095.0,222.0 1097.0,222.0 1099.0,222.5 1101.0,222.5 1103.0,222.3 1105.0,221.9 1107.0,222.0 1109.0,222.1 1111.0,221.9 1113.0,222.0 1115.0,221.9 1117.0,222.0 1119.0,222.4 1121.0,222.3 1123.0,222.2 1125.0,222.2 1127.0,222.4 1129.0,222.4 1131.0,221.9 1133.0,222.6 1135.0,222.3 1137.0,222.2 1139.0,222.8 1141.0,222.6 1143.0,222.2 1145.0,222.0 1147.0,222.3 1149.0,222.4 1151.0,222.3 1153.0,222.1 1155.0,222.5 1157.0,222.3 1159.0,222.7 1161.0,222.5 1163.0,222.3 1165.0,222.8 1167.0,222.5 1169.0,222.2 1171.0,222.3 1173.0,222.1 1175.0,222.5 1177.0,222.9 1179.0,223.0 1181.0,222.7 1183.0,222.3 1185.0,222.3 1187.0,222.3 1189.0,222.5 1191.0,222.7 1193.0,222.2 1195.0,222.6 1197.0,222.6 1199.0,222.8 1201.0,222.9 1203.0,222.6 1205.0,222.7 1207.0,222.5 1209.0,222.6 1211.0,222.8 1213.0,222.3 1215.0,222.7 1217.0,222.7 1219.0,222.4 1221.0,222.5 1223.0,223.0 1225.0,222.6 1227.0,222.4 1229.0,222.5 1231.0,222.8 1233.0,222.7 1235.0,222.6 1237.0,222.6 1239.0,222.5 1241.0,222.8 1243.0,222.9 1245.0,222.4 1247.0,222.9 1249.0,222.6 1251.0,223.2 1253.0,223.2 1255.0,222.5 1257.0,223.0 1259.0,222.7 1261.0,222.5 1263.0,223.2 1265.0,223.2 1267.0,223.1 1269.0,223.0 1271.0,223.3 1273.0,222.9 1275.0,223.0 1277.0,223.0 1279.0,223.2 1281.0,223.2 1283.0,222.7 1285.0,222.7 1287.0,223.0 1289.0,223.0 1291.0,222.8 1293.0,223.3 1295.0,223.3 1297.0,223.1 1299.0,223.0 1301.0,223.1 1303.0,222.7 1305.0,223.3 1307.0,222.7 1309.0,223.4 1311.0,223.1 1313.0,222.8 1315.0,222.7 1317.0,223.1 1319.0,223.0 1321.0,223.2 1323.0,222.7 1325.0,223.4 1327.0,223.0 1329.0,223.0 1331.0,223.3 1333.0,223.2 1335.0,223.0 1337.0,222.9 1339.0,223.1 1341.0,222.7 1343.0,222.9 1345.0,223.4 1347.0,222.7 1349.0,222.7 1351.0,223.4 1353.0,222.9 1355.0,223.1 1357.0,223.1 1359.0,223.2 1361.0,222.8 1363.0,223.2 1365.0,222.5 1367.0,223.3 1369.0,222.8 1371.0,223.1 1373.0,222.8 1375.0,223.2 1377.0,222.8 1379.0,223.0 1381.0,222.8 1383.0,223.2 1385.0,223.2 1387.0,222.6 1389.0,223.1 1391.0,223.3 1393.0,222.6 1395.0,222.6 1397.0,223.2 1399.0,223.3 1401.0,222.5 1403.0,223.1 1405.0,223.2 1407.0,222.6 1409.0,223.0 1411.0,222.6 1413.0,223.0 1415.0,222.8 1417.0,222.7 1419.0,222.4 1421.0,222.9 1423.0,222.9 1425.0,222.5 1427.0,222.3 1429.0,222.3 1431.0,222.5 1433.0,223.1 1435.0,222.9 1437.0,223.0 1439.0,222.9 1441.0,222.3 1443.0,222.5 1445.0,223.0 1447.0,222.9 1449.0,223.1 1451.0,222.9 1453.0,222.8 1455.0,222.8 1457.0,223.0 1459.0,222.5 1461.0,222.1 1463.0,222.4 1465.0,222.1 1467.0,222.3 1469.0,222.6 1471.0,222.3 1473.0,222.3 1475.0,222.1 1477.0,222.4 1479.0,222.5 1481.0,222.6 1483.0,222.9 1485.0,222.1 1487.0,222.2 1489.0,222.1 1491.0,222.8 1493.0,222.5 1495.0,222.6 1497.0,222.7 1499.0,222.0 1567.0,222.1 1886.0,221.1 1886.0,227.7 1567.0,228.7 1499.0,228.8 1497.0,229.0 1495.0,229.0 1493.0,229.4 1491.0,229.1 1489.0,229.4 1487.0,228.8 1485.0,229.3 1483.0,228.8 1481.0,228.9 1479.0,229.3 1477.0,229.0 1475.0,228.7 1473.0,229.2 1471.0,228.9 1469.0,229.2 1467.0,228.9 1465.0,229.0 1463.0,229.4 1461.0,229.6 1459.0,229.3 1457.0,229.3 1455.0,229.5 1453.0,229.1 1451.0,228.8 1449.0,228.9 1447.0,228.9 1445.0,229.4 1443.0,229.2 1441.0,229.3 1439.0,229.2 1437.0,229.2 1435.0,229.5 1433.0,229.4 1431.0,229.4 1429.0,229.1 1427.0,229.5 1425.0,229.3 1423.0,229.2 1421.0,229.2 1419.0,229.6 1417.0,229.2 1415.0,229.6 1413.0,229.8 1411.0,229.6 1409.0,229.8 1407.0,229.1 1405.0,229.2 1403.0,229.2 1401.0,229.9 1399.0,229.9 1397.0,229.2 1395.0,229.9 1393.0,229.1 1391.0,229.8 1389.0,229.7 1387.0,229.4 1385.0,229.6 1383.0,229.1 1381.0,229.6 1379.0,229.4 1377.0,229.8 1375.0,229.7 1373.0,229.4 1371.0,229.3 1369.0,229.4 1367.0,229.7 1365.0,229.8 1363.0,229.5 1361.0,229.8 1359.0,230.0 1357.0,229.8 1355.0,229.8 1353.0,229.8 1351.0,229.7 1349.0,229.4 1347.0,229.5 1345.0,229.8 1343.0,229.8 1341.0,229.5 1339.0,229.6 1337.0,229.6 1335.0,229.4 1333.0,229.5 1331.0,229.8 1329.0,230.0 1327.0,230.0 1325.0,229.3 1323.0,230.1 1321.0,229.9 1319.0,229.7 1317.0,229.9 1315.0,229.4 1313.0,229.2 1311.0,229.3 1309.0,229.3 1307.0,229.7 1305.0,229.3 1303.0,229.8 1301.0,229.7 1299.0,229.2 1297.0,230.0 1295.0,229.9 1293.0,229.8 1291.0,229.1 1289.0,229.7 1287.0,229.4 1285.0,229.7 1283.0,229.7 1281.0,229.2 1279.0,229.4 1277.0,229.7 1275.0,229.7 1273.0,229.6 1271.0,229.4 1269.0,229.9 1267.0,229.8 1265.0,229.7 1263.0,229.3 1261.0,229.5 1259.0,229.2 1257.0,229.2 1255.0,229.2 1253.0,229.2 1251.0,229.2 1249.0,229.2 1247.0,229.7 1245.0,229.0 1243.0,229.4 1241.0,229.3 1239.0,229.7 1237.0,229.1 1235.0,229.8 1233.0,229.7 1231.0,229.5 1229.0,229.3 1227.0,229.4 1225.0,229.0 1223.0,229.5 1221.0,229.0 1219.0,229.4 1217.0,229.4 1215.0,229.3 1213.0,229.1 1211.0,229.6 1209.0,229.2 1207.0,229.4 1205.0,229.4 1203.0,229.0 1201.0,229.4 1199.0,229.4 1197.0,229.3 1195.0,229.3 1193.0,229.3 1191.0,229.4 1189.0,229.4 1187.0,229.0 1185.0,229.5 1183.0,229.4 1181.0,229.1 1179.0,229.2 1177.0,229.1 1175.0,228.8 1173.0,229.3 1171.0,228.9 1169.0,228.8 1167.0,229.2 1165.0,228.8 1163.0,229.5 1161.0,229.0 1159.0,228.6 1157.0,228.9 1155.0,229.4 1153.0,229.1 1151.0,229.0 1149.0,228.8 1147.0,229.3 1145.0,229.0 1143.0,228.9 1141.0,228.8 1139.0,229.2 1137.0,229.2 1135.0,229.3 1133.0,228.5 1131.0,228.5 1129.0,228.8 1127.0,228.5 1125.0,228.7 1123.0,228.5 1121.0,228.6 1119.0,228.9 1117.0,229.2 1115.0,228.9 1113.0,229.2 1111.0,229.1 1109.0,228.4 1107.0,228.7 1105.0,228.7 1103.0,229.1 1101.0,228.3 1099.0,228.3 1097.0,228.3 1095.0,229.0 1093.0,228.5 1091.0,228.3 1089.0,229.0 1087.0,229.0 1085.0,228.8 1083.0,228.4 1081.0,228.5 1079.0,228.5 1077.0,228.2 1075.0,228.5 1073.0,228.5 1071.0,228.2 1069.0,228.8 1067.0,228.4 1065.0,228.5 1063.0,228.4 1061.0,228.1 1059.0,228.2 1057.0,228.8 1055.0,228.5 1053.0,228.4 1051.0,228.1 1049.0,228.4 1047.0,228.3 1045.0,228.0 1043.0,228.4 1041.0,228.4 1039.0,228.0 1037.0,228.6 1035.0,227.9 1033.0,228.4 1031.0,228.0 1029.0,227.8 1027.0,228.0 1025.0,228.4 1023.0,228.5 1021.0,228.0 1019.0,227.7 1017.0,228.2 1015.0,228.5 1013.0,228.2 1011.0,228.0 1009.0,227.8 1007.0,228.3 1005.0,227.8 1003.0,227.9 1001.0,228.2 999.0,227.8 997.0,228.3 995.0,227.6 993.0,227.8 991.0,227.4 989.0,227.7 987.0,227.4 985.0,227.9 983.0,227.3 981.0,227.7 979.0,227.7 977.0,227.3 975.0,227.3 973.0,227.2 971.0,227.6 969.0,227.5 967.0,227.7 965.0,227.6 963.0,227.8 961.0,227.4 959.0,227.2 957.0,227.7 955.0,227.1 953.0,226.9 951.0,227.3 949.0,227.6 947.0,227.3 945.0,227.4 943.0,227.5 941.0,227.3 939.0,227.3 937.0,227.2 935.0,226.6 933.0,227.3 931.0,227.3 929.0,227.1 927.0,226.7 925.0,227.1 923.0,226.6 921.0,226.4 919.0,226.4 917.0,227.2 915.0,226.7 913.0,226.5 911.0,227.0 909.0,227.0 907.0,226.8 905.0,226.6 903.0,226.2 901.0,226.7 899.0,226.6 897.0,226.9 895.0,226.4 893.0,226.6 891.0,226.2 889.0,226.0 887.0,226.5 885.0,226.8 883.0,226.7 881.0,226.2 879.0,226.7 877.0,226.7 875.0,226.6 873.0,226.4 871.0,226.4 869.0,226.6 867.0,226.7 865.0,226.6 863.0,226.0 861.0,226.1 859.0,226.5 857.0,226.7 855.0,226.1 853.0,226.7 851.0,225.8 849.0,226.6 847.0,226.2 845.0,225.8 843.0,226.0 841.0,226.3 839.0,226.1 837.0,226.2 835.0,226.3 833.0,226.5 831.0,225.8 829.0,226.0 827.0,226.2 825.0,226.1 823.0,226.0 821.0,226.3 819.0,225.9 817.0,226.0 815.0,226.1 813.0,225.7 811.0,226.2 809.0,225.7 807.0,225.8 805.0,225.5 803.0,225.5 801.0,226.1 799.0,226.1 797.0,225.4 795.0,225.6 793.0,225.8 791.0,226.1 789.0,225.8 787.0,226.2 785.0,226.1 783.0,225.8 781.0,226.2 779.0,226.3 777.0,226.1 775.0,225.7 773.0,225.8 771.0,226.0 769.0,226.2 767.0,226.0 765.0,225.6 763.0,226.3 761.0,226.0 759.0,225.5 757.0,225.9 755.0,225.9 753.0,226.1 751.0,226.2 749.0,226.1 747.0,225.5 745.0,225.5 743.0,225.9 741.0,226.3 739.0,226.2 737.0,225.7 735.0,226.2 733.0,226.0 731.0,226.2 729.0,226.0 727.0,225.8 725.0,225.9 723.0,225.7 721.0,225.6 719.0,225.8 717.0,226.1 715.0,225.7 713.0,225.7 711.0,225.7 709.0,226.1 707.0,225.8 705.0,226.0 703.0,225.7 701.0,226.2 699.3,225.9 698.0,226.5 696.7,226.2 695.4,226.0 694.1,225.5 692.8,225.6 691.5,226.7 690.2,226.5 688.9,226.7 687.6,225.7 686.3,225.5 685.0,226.0 683.7,225.7 682.4,226.3 681.1,226.8 679.8,225.4 678.5,226.7 677.2,226.4 675.9,226.2 674.6,226.4 673.3,225.7 672.0,226.5 670.7,226.1 669.4,226.8 668.1,226.1 666.8,225.9 665.5,225.8 664.2,226.1 662.9,226.3 661.6,225.7 660.3,226.7 659.0,225.4 657.7,225.1 656.4,226.6 655.1,226.1 653.8,226.2 652.5,225.3 651.2,226.4 649.9,226.3 648.6,226.5 647.3,226.1 646.0,225.8 644.7,225.9 643.4,225.8 642.1,225.3 640.8,226.1 639.5,226.2 638.2,225.8 636.9,226.5 635.6,225.9 634.3,226.5 633.0,225.6 631.7,226.5 630.4,226.0 629.1,225.2 627.8,226.0 626.5,225.3 625.2,225.1 623.9,225.9 622.6,225.7 621.3,225.8 620.0,225.4 618.7,226.1 617.4,225.3 616.1,225.8 614.8,225.3 613.5,225.4 612.2,225.7 610.9,226.3 609.6,226.5 608.3,226.6 607.0,226.3 605.7,226.9 604.4,226.5 603.1,225.8 601.8,225.4 600.5,225.9 599.2,225.6 597.9,226.0 596.6,227.1 595.3,225.7 594.0,226.6 592.7,227.1 591.4,225.9 590.1,227.1 588.8,226.3 587.5,227.0 586.2,226.6 584.9,227.4 583.6,227.1 582.3,227.1 581.0,226.2 579.7,227.4 578.4,225.8 577.1,227.3 575.8,225.9 574.5,226.9 573.2,226.4 571.9,226.1 570.6,225.9 569.3,226.7 568.0,226.4 566.7,227.0 565.4,227.1 564.1,227.0 562.8,225.9 561.5,226.1 560.2,227.1 558.9,227.0 557.6,225.9 556.3,226.9 555.0,226.6 553.7,226.3 552.4,226.8 551.1,225.4 549.8,225.9 548.5,225.5 547.2,225.2 545.9,225.1 544.6,225.6 543.3,225.8 542.0,226.0 540.7,226.2 539.4,225.6 538.1,226.0 536.8,226.0 535.5,226.0 534.2,225.8 532.9,224.6 531.6,224.4 530.3,225.3 529.0,224.5 527.7,224.3 526.4,224.7 525.1,225.5 523.8,225.1 522.5,225.5 521.2,224.2 519.9,225.6 518.6,224.6 517.3,225.2 516.0,224.5 514.7,224.4 513.4,224.9 512.1,225.6 510.8,224.7 509.5,224.2 508.2,224.7 506.9,224.3 505.6,225.2 504.3,224.3 503.0,224.7 501.7,224.9 500.4,223.8 499.1,224.0 497.8,224.3 496.5,224.8 495.2,223.8 493.9,224.8 492.6,224.8 491.3,224.1 490.0,224.9 488.7,223.5 487.4,224.4 486.1,223.4 484.8,223.4 483.5,224.2 482.2,223.2 480.9,223.1 479.6,222.7 478.3,224.2 477.0,224.1 475.7,223.1 474.4,222.9 473.1,223.3 471.8,223.1 470.5,223.4 469.2,223.2 467.9,222.4 466.6,222.7 465.3,223.0 464.0,222.4 462.7,221.6 461.4,222.5 460.1,221.6 458.8,221.2 457.5,222.5 456.2,221.0 454.9,221.4 453.6,222.1 452.3,221.1 451.0,221.7 449.7,220.8 448.4,221.2 447.1,221.5 445.8,220.7 444.5,220.0 443.2,220.6 441.9,220.6 440.6,219.6 439.3,221.0 438.0,220.0 436.7,221.2 435.4,221.3 434.1,221.6 432.8,220.7 431.5,221.4 430.2,221.3 428.9,222.0 427.6,221.7 426.3,222.4 425.0,222.7 423.7,221.8 422.4,222.4 421.1,221.9 419.8,222.5 418.5,221.6 417.2,221.7 415.9,221.5 414.6,221.4 413.3,219.9 412.0,220.9 410.7,220.5 409.4,220.6 408.1,221.1 406.8,220.5 405.5,219.8 404.2,221.2 402.9,220.8 401.6,220.6 400.3,220.3 399.0,220.5 397.7,220.2 396.4,220.4 395.1,220.7 393.8,219.9 392.5,220.2 391.2,220.2 389.9,219.7 388.6,218.5 387.3,218.4 386.0,218.9 384.7,218.9 383.4,218.9 382.1,217.5 380.8,217.8 379.5,217.9 378.2,217.4 376.9,217.5 375.6,217.1 374.3,217.0 373.0,216.8 371.7,215.3 370.4,214.9 369.1,215.4 367.8,215.1 366.5,215.4 365.2,214.6 363.9,215.4 362.6,214.8 361.3,215.1 360.0,215.6 358.7,216.0 357.4,215.6 356.1,215.6 354.8,214.4 353.5,215.5 352.2,215.4 350.9,214.9 349.6,215.4 348.3,215.5 347.0,214.8 345.7,214.9 344.4,214.3 343.1,214.8 341.8,215.0 340.5,213.9 339.2,215.2 337.9,214.0 336.6,214.5 335.3,214.0 334.0,213.9 332.7,214.4 331.4,214.2 330.1,214.0 328.8,214.0 327.5,214.7 326.2,215.3 324.9,215.2 323.6,215.6 322.3,215.4 321.0,215.2 319.7,215.3 318.4,215.3 317.1,215.1 315.8,216.5 314.5,216.4 313.2,216.7 311.9,216.1 310.6,214.7 309.3,215.3 308.0,214.3 306.7,215.5 305.4,214.6 304.1,214.6 302.8,214.9 301.5,214.9 300.2,216.1 298.9,215.7 297.6,216.0 296.3,216.5 295.0,216.4 293.7,216.7 292.4,215.2 291.1,215.9 289.8,215.1 288.5,214.4 287.2,214.4 285.9,213.8 284.6,212.9 283.3,211.8 282.0,211.9 280.7,211.7 279.4,213.1 278.1,212.0 276.8,212.9 275.5,211.8 274.2,213.1 272.9,214.0 271.6,214.2 270.3,215.6 269.0,216.3 267.7,214.0 266.4,213.0 265.1,213.2 263.8,214.9 262.5,216.9 261.2,218.3 259.9,219.2 258.6,219.3 257.3,218.1 256.0,218.1 254.7,218.0 253.4,219.4 252.1,220.1 250.8,221.4 249.5,220.4 248.2,218.7 246.9,215.1 245.6,212.1 244.3,211.8 243.0,215.9 242.1,218.3 239.5,218.3"/>
<polygon fill="#edb120" points="240.5,372 242.6,372 243.3,319 245.3,289.6 247,278 247,258 240.5,258"/>
<polygon fill="#edb120" points="245.2,253.7 246.5,252.4 247.8,248.7 249.1,246.9 250.4,247.0 251.7,245.3 253.0,244.2 254.3,243.6 255.6,240.9 256.9,237.6 258.2,237.2 259.5,237.5 260.8,237.3 262.1,236.5 263.4,236.2 264.7,235.3 266.0,233.4 267.3,233.1 268.6,232.1 269.9,230.7 271.2,231.9 272.5,233.0 273.8,231.8 275.1,231.2 276.4,230.5 277.7,229.6 279.0,231.3 280.3,231.6 281.6,233.1 282.9,233.0 284.2,233.3 285.5,232.4 286.8,232.8 288.1,232.2 289.4,232.7 290.7,232.2 292.0,232.2 293.3,232.1 294.6,231.8 295.9,231.8 297.2,232.0 298.5,231.5 299.8,232.4 301.1,233.2 302.4,233.0 303.7,233.4 305.0,232.4 306.3,233.3 307.6,232.8 308.9,233.9 310.2,233.5 311.5,233.8 312.8,233.6 314.1,232.4 315.4,232.0 316.7,232.8 318.0,232.9 319.3,232.8 320.6,232.6 321.9,232.9 323.2,234.4 324.5,234.6 325.8,234.4 327.1,234.7 328.4,234.8 329.7,233.6 331.0,234.6 332.3,234.9 333.6,234.7 334.9,234.6 336.2,233.9 337.5,233.9 338.8,233.0 340.1,233.8 341.4,233.5 342.7,232.9 344.0,232.2 345.3,232.2 346.6,232.4 347.9,233.4 349.2,233.0 350.5,233.8 351.8,233.1 353.1,233.4 354.4,233.6 355.7,233.5 357.0,233.8 358.3,232.9 359.6,232.4 360.9,232.6 362.2,231.9 363.5,232.6 364.8,232.8 366.1,233.5 367.4,233.4 368.7,233.8 370.0,234.3 371.3,235.6 372.6,235.8 373.9,235.5 375.2,235.7 376.5,235.3 377.8,236.7 379.1,236.6 380.4,236.4 381.7,235.8 383.0,236.0 384.3,236.1 385.6,235.2 386.9,234.9 388.2,235.1 389.5,234.9 390.8,234.1 392.1,234.0 393.4,234.3 394.7,234.6 396.0,234.0 397.3,233.4 398.6,233.7 399.9,233.6 401.2,234.4 402.5,233.6 403.8,234.6 405.1,233.6 406.4,233.5 407.7,233.2 409.0,233.9 410.3,233.9 411.6,234.3 412.9,234.0 414.2,233.7 415.5,232.8 416.8,233.9 418.1,232.7 419.4,232.6 420.7,232.3 422.0,232.7 423.3,232.9 424.6,232.4 425.9,232.4 427.2,232.1 428.5,232.9 429.8,233.2 431.1,232.4 432.4,232.6 433.7,233.3 435.0,233.3 436.3,232.9 437.6,234.5 438.9,234.5 440.2,234.9 441.5,234.7 442.8,236.1 444.1,235.5 445.4,235.9 446.7,236.4 448.0,236.3 449.3,235.4 450.6,235.4 451.9,235.6 453.2,235.5 454.5,236.4 455.8,235.7 457.1,235.4 458.4,235.1 459.7,235.0 461.0,234.7 462.3,234.9 463.6,234.3 464.9,234.7 466.2,234.5 467.5,234.5 468.8,234.3 470.1,233.5 471.4,233.8 472.7,234.4 474.0,233.6 475.3,233.9 476.6,233.4 477.9,234.2 479.2,233.5 480.5,233.5 481.8,234.1 483.1,233.0 484.4,232.9 485.7,233.4 487.0,233.4 488.3,233.0 489.6,233.3 490.9,233.8 492.2,234.0 493.5,234.0 494.8,233.8 496.1,232.7 497.4,233.1 498.7,233.2 500.0,232.6 501.3,233.6 502.6,232.9 503.9,233.6 505.2,233.4 506.5,232.8 507.8,232.9 509.1,233.0 510.4,232.6 511.7,232.4 513.0,232.9 514.3,232.7 515.6,232.7 516.9,233.4 518.2,233.4 519.5,232.9 520.8,232.4 522.1,233.4 523.4,232.7 524.7,232.5 526.0,233.4 527.3,233.6 528.6,232.7 529.9,233.1 531.2,233.6 532.5,233.0 533.8,232.7 535.1,232.4 536.4,232.1 537.7,233.3 539.0,233.1 540.3,232.2 541.6,232.8 542.9,232.1 544.2,232.8 545.5,232.2 546.8,232.6 548.1,232.4 549.4,231.7 550.7,232.4 552.0,232.5 553.3,231.7 554.6,231.7 555.9,232.0 557.2,232.6 558.5,233.0 559.8,232.3 561.1,232.8 562.4,232.6 563.7,232.0 565.0,232.3 566.3,232.8 567.6,232.3 568.9,232.3 570.2,232.6 571.5,231.8 572.8,232.3 574.1,232.4 575.4,232.4 576.7,232.6 578.0,232.0 579.3,232.3 580.6,232.3 581.9,231.8 583.2,232.7 584.5,233.0 585.8,232.4 587.1,232.2 588.4,232.1 589.7,232.3 591.0,232.1 592.3,232.0 593.6,233.0 594.9,232.1 596.2,231.9 597.5,232.6 598.8,231.6 600.1,232.1 601.4,232.4 602.7,232.8 604.0,232.1 605.3,231.7 606.6,233.0 607.9,231.6 609.2,232.2 610.5,232.3 611.8,233.0 613.1,232.1 614.4,232.0 615.7,232.0 617.0,232.2 618.3,231.8 619.6,232.9 620.9,232.3 622.2,232.7 623.5,232.0 624.8,232.6 626.1,232.9 627.4,232.0 628.7,233.0 630.0,232.0 631.3,232.7 632.6,233.0 633.9,232.3 635.2,233.0 636.5,232.2 637.8,232.3 639.1,233.0 641.0,232.8 643.0,232.7 645.0,232.6 647.0,233.1 649.0,232.7 651.0,233.1 653.0,233.1 655.0,233.0 657.0,232.6 659.0,233.1 661.0,232.9 663.0,233.0 665.0,233.0 667.0,232.6 669.0,232.6 671.0,233.0 673.0,232.5 675.0,232.4 677.0,232.3 679.0,232.7 681.0,232.5 683.0,232.9 685.0,232.2 687.0,232.5 689.0,232.7 691.0,232.6 693.0,232.7 695.0,232.6 697.0,232.7 699.0,232.8 701.0,232.7 703.0,232.5 705.0,232.4 707.0,232.5 709.0,232.3 711.0,232.3 713.0,232.5 715.0,232.4 717.0,232.4 719.0,232.2 721.0,232.8 723.0,232.4 725.0,232.5 727.0,232.4 729.0,232.5 731.0,232.7 733.0,232.8 735.0,232.6 737.0,232.8 739.0,232.4 741.0,232.5 743.0,232.4 745.0,232.8 747.0,232.2 749.0,232.3 751.0,232.7 753.0,232.3 755.0,232.2 757.0,232.4 759.0,232.5 761.0,232.5 763.0,232.3 765.0,232.4 767.0,232.4 769.0,232.3 771.0,232.5 773.0,232.3 775.0,232.3 777.0,232.8 779.0,232.8 781.0,232.4 783.0,232.5 785.0,232.2 787.0,232.2 789.0,232.5 791.0,232.8 793.0,232.2 795.0,232.5 797.0,232.7 799.0,232.2 801.0,232.6 803.0,232.4 805.0,232.7 807.0,232.8 809.0,232.8 811.0,232.7 813.0,232.3 815.0,232.7 817.0,232.6 819.0,232.4 821.0,232.3 823.0,232.5 825.0,232.5 827.0,232.5 829.0,232.9 831.0,232.4 833.0,232.8 835.0,232.3 837.0,232.7 839.0,232.5 841.0,232.5 843.0,232.5 845.0,232.3 847.0,232.3 849.0,232.5 851.0,232.3 853.0,232.8 855.0,232.7 857.0,232.6 859.0,232.7 861.0,232.3 863.0,232.2 865.0,232.2 867.0,232.8 869.0,232.5 871.0,232.8 873.0,232.4 875.0,232.4 877.0,232.6 879.0,232.7 881.0,232.5 883.0,232.5 885.0,232.4 887.0,232.3 889.0,232.8 891.0,232.8 893.0,232.4 895.0,232.2 897.0,232.8 899.0,232.5 901.0,232.7 903.0,232.4 905.0,232.2 907.0,232.7 909.0,232.2 911.0,232.8 913.0,232.2 915.0,232.4 917.0,232.1 919.0,232.3 921.0,232.6 923.0,232.2 925.0,232.2 927.0,232.2 929.0,232.1 931.0,232.5 933.0,232.3 935.0,232.6 937.0,232.6 939.0,232.5 941.0,232.8 943.0,232.8 945.0,232.3 947.0,232.6 949.0,232.6 951.0,232.2 953.0,232.6 955.0,232.1 957.0,232.6 959.0,232.7 961.0,232.5 963.0,232.6 965.0,232.5 967.0,232.4 969.0,232.2 971.0,232.3 973.0,232.3 975.0,232.6 977.0,232.7 979.0,232.8 981.0,232.3 983.0,232.7 985.0,232.7 987.0,232.1 989.0,232.5 991.0,232.1 993.0,232.1 995.0,232.4 997.0,232.6 999.0,232.2 1001.0,232.3 1003.0,232.4 1005.0,232.4 1007.0,232.1 1009.0,232.2 1011.0,232.1 1013.0,232.3 1015.0,232.7 1017.0,232.2 1019.0,232.6 1021.0,232.5 1023.0,232.6 1025.0,232.6 1027.0,232.1 1029.0,232.3 1031.0,232.6 1033.0,232.5 1035.0,232.6 1037.0,232.1 1039.0,232.6 1041.0,232.3 1043.0,232.6 1045.0,232.4 1047.0,232.3 1049.0,232.4 1051.0,232.0 1053.0,232.7 1055.0,232.6 1057.0,232.5 1059.0,232.5 1061.0,232.5 1063.0,232.3 1065.0,232.2 1067.0,232.5 1069.0,232.7 1071.0,232.6 1073.0,232.6 1075.0,232.1 1077.0,232.2 1079.0,232.2 1081.0,232.4 1083.0,232.6 1085.0,232.4 1087.0,232.4 1089.0,232.3 1091.0,232.1 1093.0,232.2 1095.0,232.7 1097.0,232.6 1099.0,232.4 1101.0,232.5 1103.0,232.1 1105.0,232.0 1107.0,232.0 1109.0,232.0 1111.0,232.1 1113.0,232.7 1115.0,232.4 1117.0,232.1 1119.0,232.0 1121.0,232.0 1123.0,232.0 1125.0,232.1 1127.0,232.2 1129.0,232.1 1131.0,232.1 1133.0,232.4 1135.0,232.0 1137.0,232.1 1139.0,232.5 1141.0,232.1 1143.0,232.4 1145.0,232.1 1147.0,232.4 1149.0,232.0 1151.0,232.1 1153.0,232.5 1155.0,232.1 1157.0,232.4 1159.0,232.1 1161.0,232.0 1163.0,232.2 1165.0,232.3 1167.0,232.0 1169.0,232.3 1171.0,232.2 1173.0,232.2 1175.0,232.5 1177.0,232.5 1179.0,232.2 1181.0,232.1 1183.0,232.5 1185.0,232.5 1187.0,232.3 1189.0,232.3 1191.0,232.2 1193.0,232.4 1195.0,232.3 1197.0,232.5 1199.0,232.1 1340.0,232.2 1886.0,232.1 1886.0,238.9 1340.0,239.0 1199.0,239.4 1197.0,239.0 1195.0,239.4 1193.0,238.9 1191.0,239.3 1189.0,238.9 1187.0,239.4 1185.0,239.1 1183.0,239.1 1181.0,239.2 1179.0,239.2 1177.0,239.3 1175.0,239.2 1173.0,238.9 1171.0,238.9 1169.0,239.5 1167.0,239.3 1165.0,239.2 1163.0,239.5 1161.0,239.4 1159.0,238.8 1157.0,239.4 1155.0,239.1 1153.0,239.3 1151.0,239.1 1149.0,239.3 1147.0,239.2 1145.0,239.0 1143.0,238.9 1141.0,239.0 1139.0,239.1 1137.0,239.1 1135.0,239.0 1133.0,239.4 1131.0,239.1 1129.0,239.4 1127.0,239.4 1125.0,239.3 1123.0,238.9 1121.0,239.0 1119.0,239.5 1117.0,239.0 1115.0,239.4 1113.0,239.1 1111.0,239.5 1109.0,239.1 1107.0,239.5 1105.0,239.2 1103.0,239.0 1101.0,239.2 1099.0,239.3 1097.0,239.6 1095.0,239.5 1093.0,239.5 1091.0,239.2 1089.0,239.0 1087.0,239.2 1085.0,239.0 1083.0,239.5 1081.0,239.1 1079.0,239.5 1077.0,239.5 1075.0,239.5 1073.0,239.3 1071.0,239.5 1069.0,239.2 1067.0,238.9 1065.0,239.2 1063.0,239.5 1061.0,239.1 1059.0,239.6 1057.0,239.6 1055.0,239.2 1053.0,239.3 1051.0,239.5 1049.0,239.6 1047.0,239.5 1045.0,239.6 1043.0,239.4 1041.0,239.3 1039.0,239.2 1037.0,239.3 1035.0,239.4 1033.0,239.3 1031.0,239.1 1029.0,239.6 1027.0,239.0 1025.0,239.5 1023.0,239.5 1021.0,239.0 1019.0,239.4 1017.0,239.6 1015.0,239.0 1013.0,239.0 1011.0,239.3 1009.0,239.4 1007.0,239.2 1005.0,239.3 1003.0,239.6 1001.0,239.4 999.0,239.6 997.0,239.2 995.0,239.3 993.0,239.5 991.0,239.4 989.0,239.0 987.0,239.4 985.0,239.0 983.0,239.6 981.0,239.5 979.0,239.4 977.0,239.3 975.0,239.3 973.0,239.6 971.0,239.0 969.0,239.0 967.0,239.4 965.0,239.3 963.0,239.3 961.0,239.6 959.0,239.3 957.0,239.0 955.0,239.7 953.0,239.7 951.0,239.4 949.0,239.4 947.0,239.2 945.0,239.7 943.0,239.5 941.0,239.1 939.0,239.4 937.0,239.6 935.0,239.1 933.0,239.5 931.0,239.1 929.0,239.2 927.0,239.6 925.0,239.2 923.0,239.3 921.0,239.0 919.0,239.2 917.0,239.1 915.0,239.4 913.0,239.3 911.0,239.4 909.0,239.3 907.0,239.2 905.0,239.7 903.0,239.3 901.0,239.5 899.0,239.7 897.0,239.7 895.0,239.6 893.0,239.4 891.0,239.4 889.0,239.1 887.0,239.3 885.0,239.2 883.0,239.7 881.0,239.1 879.0,239.4 877.0,239.6 875.0,239.2 873.0,239.6 871.0,239.7 869.0,239.3 867.0,239.5 865.0,239.6 863.0,239.6 861.0,239.7 859.0,239.7 857.0,239.2 855.0,239.5 853.0,239.7 851.0,239.4 849.0,239.4 847.0,239.5 845.0,239.7 843.0,239.2 841.0,239.2 839.0,239.5 837.0,239.6 835.0,239.2 833.0,239.7 831.0,239.4 829.0,239.6 827.0,239.5 825.0,239.5 823.0,239.6 821.0,239.3 819.0,239.8 817.0,239.6 815.0,239.2 813.0,239.4 811.0,239.1 809.0,239.1 807.0,239.4 805.0,239.4 803.0,239.7 801.0,239.2 799.0,239.6 797.0,239.3 795.0,239.7 793.0,239.6 791.0,239.4 789.0,239.4 787.0,239.8 785.0,239.1 783.0,239.1 781.0,239.6 779.0,239.3 777.0,239.3 775.0,239.6 773.0,239.3 771.0,239.7 769.0,239.6 767.0,239.3 765.0,239.3 763.0,239.3 761.0,239.2 759.0,239.1 757.0,239.3 755.0,239.3 753.0,239.7 751.0,239.6 749.0,239.6 747.0,239.1 745.0,239.2 743.0,239.1 741.0,239.5 739.0,239.7 737.0,239.4 735.0,239.2 733.0,239.3 731.0,239.5 729.0,239.6 727.0,239.6 725.0,239.0 723.0,239.0 721.0,239.5 719.0,239.6 717.0,239.1 715.0,239.5 713.0,239.4 711.0,239.7 709.0,239.7 707.0,239.4 705.0,239.5 703.0,239.4 701.0,239.4 699.0,239.6 697.0,239.6 695.0,239.3 693.0,239.6 691.0,239.4 689.0,239.5 687.0,239.3 685.0,239.6 683.0,239.4 681.0,239.6 679.0,239.1 677.0,239.5 675.0,239.5 673.0,239.8 671.0,239.5 669.0,239.3 667.0,239.3 665.0,239.3 663.0,239.2 661.0,239.3 659.0,239.4 657.0,239.6 655.0,239.8 653.0,239.4 651.0,239.7 649.0,239.7 647.0,239.7 645.0,239.6 643.0,239.8 641.0,239.3 639.1,239.6 637.8,238.8 636.5,238.9 635.2,239.2 633.9,239.8 632.6,239.2 631.3,239.5 630.0,239.8 628.7,239.0 627.4,239.6 626.1,239.9 624.8,239.2 623.5,239.7 622.2,238.8 620.9,239.4 619.6,239.7 618.3,239.9 617.0,238.9 615.7,239.2 614.4,239.3 613.1,238.8 611.8,239.4 610.5,239.2 609.2,239.1 607.9,239.2 606.6,239.9 605.3,239.6 604.0,239.1 602.7,239.6 601.4,238.7 600.1,239.1 598.8,239.2 597.5,239.1 596.2,239.7 594.9,239.9 593.6,238.9 592.3,239.4 591.0,239.4 589.7,239.1 588.4,238.7 587.1,239.2 585.8,239.9 584.5,238.8 583.2,238.9 581.9,238.9 580.6,239.9 579.3,238.9 578.0,239.0 576.7,239.6 575.4,239.8 574.1,239.0 572.8,240.0 571.5,239.6 570.2,239.0 568.9,239.2 567.6,239.3 566.3,239.6 565.0,239.3 563.7,239.2 562.4,239.1 561.1,239.2 559.8,239.4 558.5,239.7 557.2,239.7 555.9,238.7 554.6,238.8 553.3,239.4 552.0,239.8 550.7,240.0 549.4,238.9 548.1,239.1 546.8,240.1 545.5,240.1 544.2,239.3 542.9,239.6 541.6,239.4 540.3,239.0 539.0,240.2 537.7,239.5 536.4,240.6 535.1,239.6 533.8,239.4 532.5,240.1 531.2,239.9 529.9,240.0 528.6,240.5 527.3,240.0 526.0,239.8 524.7,240.5 523.4,240.5 522.1,240.1 520.8,240.5 519.5,240.8 518.2,240.2 516.9,240.0 515.6,240.7 514.3,240.1 513.0,240.4 511.7,240.4 510.4,240.5 509.1,240.2 507.8,239.8 506.5,240.1 505.2,240.5 503.9,241.1 502.6,240.2 501.3,240.6 500.0,240.2 498.7,240.8 497.4,240.2 496.1,240.0 494.8,241.4 493.5,240.2 492.2,240.7 490.9,240.3 489.6,241.1 488.3,241.0 487.0,240.6 485.7,241.3 484.4,241.0 483.1,240.7 481.8,240.5 480.5,241.7 479.2,241.2 477.9,241.0 476.6,240.9 475.3,241.6 474.0,240.7 472.7,240.6 471.4,240.4 470.1,241.6 468.8,240.6 467.5,240.6 466.2,241.4 464.9,241.1 463.6,240.9 462.3,241.8 461.0,242.0 459.7,241.8 458.4,241.7 457.1,241.6 455.8,243.0 454.5,242.2 453.2,242.4 451.9,242.3 450.6,243.1 449.3,242.5 448.0,243.2 446.7,242.8 445.4,242.8 444.1,242.4 442.8,242.7 441.5,242.1 440.2,242.0 438.9,241.2 437.6,240.6 436.3,240.9 435.0,240.7 433.7,239.9 432.4,240.2 431.1,239.8 429.8,239.5 428.5,240.4 427.2,239.3 425.9,239.9 424.6,239.3 423.3,239.9 422.0,239.6 420.7,239.4 419.4,239.6 418.1,239.7 416.8,239.8 415.5,240.7 414.2,240.1 412.9,241.2 411.6,240.0 410.3,240.5 409.0,241.1 407.7,241.1 406.4,241.1 405.1,240.7 403.8,240.2 402.5,241.1 401.2,240.1 399.9,240.9 398.6,240.4 397.3,241.1 396.0,240.9 394.7,241.4 393.4,240.9 392.1,241.7 390.8,241.9 389.5,242.3 388.2,242.6 386.9,242.4 385.6,243.1 384.3,242.5 383.0,243.3 381.7,244.1 380.4,242.9 379.1,243.3 377.8,243.8 376.5,243.0 375.2,242.7 373.9,242.9 372.6,243.2 371.3,242.5 370.0,241.4 368.7,240.9 367.4,240.4 366.1,240.3 364.8,239.3 363.5,239.4 362.2,239.6 360.9,240.2 359.6,239.8 358.3,240.8 357.0,241.5 355.7,240.5 354.4,240.5 353.1,241.0 351.8,241.0 350.5,240.5 349.2,239.7 347.9,240.1 346.6,239.9 345.3,239.7 344.0,239.6 342.7,240.0 341.4,240.8 340.1,240.8 338.8,240.8 337.5,241.6 336.2,241.3 334.9,241.2 333.6,241.5 332.3,242.6 331.0,241.7 329.7,242.6 328.4,242.6 327.1,243.1 325.8,242.4 324.5,242.8 323.2,241.6 321.9,242.3 320.6,241.7 319.3,241.5 318.0,241.0 316.7,240.1 315.4,239.8 314.1,240.8 312.8,240.1 311.5,241.8 310.2,241.2 308.9,242.2 307.6,242.6 306.3,241.2 305.0,242.2 303.7,242.0 302.4,241.9 301.1,241.1 299.8,240.9 298.5,241.9 297.2,241.6 295.9,241.3 294.6,242.0 293.3,241.5 292.0,241.9 290.7,242.9 289.4,242.1 288.1,243.4 286.8,244.9 285.5,245.7 284.2,245.4 282.9,245.1 281.6,244.7 280.3,243.8 279.0,243.4 277.7,243.5 276.4,245.5 275.1,246.1 273.8,246.7 272.5,246.1 271.2,244.0 269.9,245.2 268.6,247.0 267.3,248.2 266.0,249.2 264.7,249.1 263.4,249.7 262.1,250.4 260.8,251.1 259.5,251.8 258.2,253.8 256.9,257.5 255.6,260.6 254.3,260.6 253.0,262.2 251.7,262.0 250.4,262.6 249.1,262.3 247.8,261.1 246.5,260.3 245.2,259.8"/>
<line x1="238.6" x2="238.6" y1="55.0" y2="290.0" stroke="#7e2f8e" stroke-width="6.3"/>
<polygon fill="#7e2f8e" points="240.3,236.7 242.1,236.7 242.5,236.7 244.3,258.7 248.2,262.7 254.4,264.9 263.2,266.5 280.8,267.1 298.0,267.4 331.3,268.5 430.0,269.0 620.0,269.1 1886.0,268.8 1886.0,275.4 620.0,275.8 430.0,275.6 331.3,274.8 298.0,275.0 272.0,274.6 254.4,273.5 246.5,274.6 244.3,280.7 242.5,287.8 242.1,287.8 240.3,289.0"/>
<line x1="238.0" x2="238.0" y1="182.2" y2="1249.0" stroke="#77ac30" stroke-width="6.0"/>
<circle cx="238.0" cy="1249" r="3" fill="#77ac30"/>
<polygon fill="#77ac30" points="240,182.2 241.3,182.2 241.5,600 242.4,1080 244.8,1172 247.8,1226 250.1,1249 244,1249 240,1235"/>
<polygon fill="#77ac30" points="243.4,1225.3 244.7,1225.8 246.0,1225.6 247.3,1227.2 248.6,1237.2 249.9,1250.8 251.2,1252.1 252.5,1253.0 253.8,1256.1 255.1,1260.9 256.4,1266.3 257.7,1271.1 259.0,1273.8 260.3,1275.9 261.6,1277.2 262.9,1279.6 264.2,1280.3 265.5,1282.9 266.8,1284.0 268.1,1284.4 269.4,1285.6 270.7,1287.4 272.0,1288.7 273.3,1290.1 274.6,1291.4 275.9,1291.0 277.2,1291.4 278.5,1291.9 279.8,1292.1 281.1,1292.9 282.4,1293.2 283.7,1292.5 285.0,1292.0 286.3,1292.7 287.6,1291.5 288.9,1292.8 290.2,1292.6 291.5,1292.1 292.8,1291.9 294.1,1293.4 295.4,1292.2 296.7,1293.6 298.0,1293.5 299.3,1294.1 300.6,1293.6 301.9,1294.8 303.2,1294.4 304.5,1295.2 305.8,1296.1 307.1,1295.9 308.4,1295.5 309.7,1295.7 311.0,1295.7 312.3,1296.2 313.6,1295.9 314.9,1295.0 316.2,1295.4 317.5,1295.2 318.8,1295.6 320.1,1295.4 321.4,1296.6 322.7,1295.8 324.0,1295.9 325.3,1296.1 326.6,1295.2 327.9,1294.7 329.2,1294.9 330.5,1295.2 331.8,1294.1 333.1,1293.6 334.4,1293.3 335.7,1293.5 337.0,1293.0 338.3,1293.9 339.6,1294.3 340.9,1293.9 342.2,1294.8 343.5,1296.1 344.8,1295.5 346.1,1296.7 347.4,1295.8 348.7,1296.7 350.0,1296.8 351.3,1297.4 352.6,1296.6 353.9,1297.0 355.2,1297.8 356.5,1299.1 357.8,1298.9 359.1,1300.0 360.4,1300.0 361.7,1300.8 363.0,1299.3 364.3,1300.6 365.6,1299.6 366.9,1299.5 368.2,1299.1 369.5,1298.2 370.8,1298.3 372.1,1297.4 373.4,1296.5 374.7,1295.5 376.0,1295.3 377.3,1295.4 378.6,1295.0 379.9,1294.6 381.2,1294.3 382.5,1294.3 383.8,1294.3 385.1,1293.9 386.4,1294.2 387.7,1295.1 389.0,1294.9 390.3,1294.5 391.6,1294.9 392.9,1294.8 394.2,1293.4 395.5,1293.3 396.8,1293.7 398.1,1294.1 399.4,1294.9 400.7,1293.5 402.0,1294.6 403.3,1294.9 404.6,1294.1 405.9,1295.1 407.2,1295.3 408.5,1294.2 409.8,1295.2 411.1,1295.0 412.4,1295.6 413.7,1294.7 415.0,1295.5 416.3,1294.6 417.6,1294.7 418.9,1295.4 420.2,1295.3 421.5,1295.5 422.8,1295.2 424.1,1296.5 425.4,1296.0 426.7,1296.6 428.0,1296.7 429.3,1297.6 430.6,1296.4 431.9,1297.7 433.2,1296.5 434.5,1297.6 435.8,1296.9 437.1,1297.0 438.4,1295.9 439.7,1296.4 441.0,1295.0 442.3,1295.4 443.6,1294.7 444.9,1294.6 446.2,1294.3 447.5,1293.7 448.8,1292.6 450.1,1293.7 451.4,1292.5 452.7,1293.7 454.0,1293.8 455.3,1292.6 456.6,1292.4 457.9,1293.7 459.2,1293.0 460.5,1293.5 461.8,1293.8 463.1,1294.0 464.4,1293.4 465.7,1294.0 467.0,1294.1 468.3,1293.9 469.6,1293.3 470.9,1294.2 472.2,1293.5 473.5,1294.2 474.8,1293.2 476.1,1293.3 477.4,1292.4 478.7,1292.4 480.0,1293.5 481.3,1292.6 482.6,1292.9 483.9,1292.4 485.2,1292.8 486.5,1292.5 487.8,1291.9 489.1,1292.2 490.4,1292.7 491.7,1292.0 493.0,1293.3 494.3,1291.9 495.6,1292.7 496.9,1293.2 498.2,1293.0 499.5,1292.1 500.8,1292.0 502.1,1293.0 503.4,1292.6 504.7,1292.1 506.0,1292.2 507.3,1293.0 508.6,1292.0 509.9,1292.5 511.2,1293.6 512.5,1292.5 513.8,1293.5 515.1,1292.2 516.4,1292.5 517.7,1292.2 519.0,1293.4 520.3,1293.1 521.6,1293.5 522.9,1293.6 524.2,1293.4 525.5,1292.5 526.8,1293.0 528.1,1292.4 529.4,1293.6 530.7,1292.9 532.0,1293.0 533.3,1293.6 534.6,1293.7 535.9,1293.1 537.2,1292.7 538.5,1293.4 539.8,1293.3 541.1,1292.2 542.4,1292.5 543.7,1293.3 545.0,1293.3 546.3,1293.1 547.6,1292.3 548.9,1291.8 550.2,1292.9 551.5,1291.7 552.8,1292.3 554.1,1291.9 555.4,1292.6 556.7,1291.7 558.0,1291.7 559.3,1292.4 561.0,1291.8 563.0,1292.1 565.0,1291.6 567.0,1292.0 569.0,1291.9 571.0,1291.6 573.0,1292.1 575.0,1291.5 577.0,1292.3 579.0,1292.2 581.0,1291.8 583.0,1292.2 585.0,1292.0 587.0,1292.2 589.0,1292.6 591.0,1292.3 593.0,1292.4 595.0,1292.0 597.0,1292.0 599.0,1292.5 601.0,1292.5 603.0,1293.0 605.0,1292.7 607.0,1293.1 609.0,1292.8 611.0,1293.2 613.0,1292.7 615.0,1292.5 617.0,1293.2 619.0,1293.2 621.0,1292.8 623.0,1292.9 625.0,1293.1 627.0,1293.6 629.0,1293.4 631.0,1293.3 633.0,1293.4 635.0,1293.3 637.0,1293.4 639.0,1293.2 641.0,1293.8 643.0,1293.2 645.0,1293.7 647.0,1293.4 649.0,1293.5 651.0,1294.1 653.0,1294.2 655.0,1293.9 657.0,1294.4 659.0,1294.2 661.0,1294.1 663.0,1294.2 665.0,1293.7 667.0,1293.9 669.0,1294.5 671.0,1294.2 673.0,1294.8 675.0,1294.2 677.0,1294.3 679.0,1294.3 681.0,1295.0 683.0,1294.7 685.0,1294.4 687.0,1294.3 689.0,1294.8 691.0,1294.3 693.0,1295.1 695.0,1294.6 697.0,1295.1 699.0,1295.3 701.0,1294.8 703.0,1295.1 705.0,1295.2 707.0,1295.1 709.0,1295.1 711.0,1295.5 713.0,1295.0 715.0,1295.3 717.0,1294.9 719.0,1295.4 721.0,1295.8 723.0,1295.3 725.0,1295.7 727.0,1295.4 729.0,1295.4 731.0,1295.5 733.0,1296.0 735.0,1295.5 737.0,1295.3 739.0,1295.8 741.0,1295.9 743.0,1295.9 745.0,1295.8 747.0,1295.7 749.0,1296.2 751.0,1295.8 753.0,1295.8 755.0,1295.8 757.0,1295.7 759.0,1295.9 761.0,1296.4 763.0,1296.1 765.0,1296.2 767.0,1296.1 769.0,1296.1 771.0,1296.5 773.0,1296.7 775.0,1296.0 777.0,1296.5 779.0,1296.7 781.0,1296.3 783.0,1296.7 785.0,1296.0 787.0,1296.6 789.0,1295.9 791.0,1296.0 793.0,1295.9 795.0,1295.9 797.0,1296.5 799.0,1296.2 801.0,1296.2 803.0,1296.5 805.0,1296.1 807.0,1296.6 809.0,1296.0 811.0,1296.7 813.0,1296.6 815.0,1296.3 817.0,1296.7 819.0,1296.6 821.0,1296.7 823.0,1296.1 825.0,1296.2 827.0,1296.1 829.0,1296.3 831.0,1296.3 833.0,1296.6 835.0,1296.1 837.0,1296.4 839.0,1296.1 841.0,1296.3 843.0,1295.9 845.0,1296.3 847.0,1296.4 849.0,1296.4 851.0,1296.6 853.0,1296.3 855.0,1296.1 857.0,1296.6 859.0,1296.1 861.0,1295.8 863.0,1296.1 865.0,1296.2 867.0,1295.7 869.0,1295.6 871.0,1295.4 873.0,1295.8 875.0,1295.6 877.0,1295.9 879.0,1295.2 881.0,1295.6 883.0,1295.1 885.0,1295.1 887.0,1294.9 889.0,1295.4 891.0,1295.4 893.0,1295.2 895.0,1295.5 897.0,1295.5 899.0,1295.6 901.0,1295.4 903.0,1295.2 905.0,1295.2 907.0,1295.6 909.0,1295.1 911.0,1295.1 913.0,1295.8 915.0,1295.7 917.0,1295.5 919.0,1295.6 921.0,1295.0 923.0,1295.6 925.0,1295.5 927.0,1295.2 929.0,1295.2 931.0,1295.6 933.0,1295.8 935.0,1295.6 937.0,1295.0 939.0,1295.5 941.0,1295.3 943.0,1295.2 945.0,1295.1 947.0,1295.6 949.0,1295.3 951.0,1295.4 953.0,1295.5 955.0,1295.9 957.0,1295.3 959.0,1295.6 961.0,1295.7 963.0,1295.8 965.0,1295.9 967.0,1295.3 969.0,1295.9 971.0,1295.2 973.0,1295.6 975.0,1295.8 977.0,1296.0 979.0,1295.5 981.0,1295.8 983.0,1295.8 985.0,1295.3 987.0,1295.9 989.0,1296.0 991.0,1295.4 993.0,1295.6 995.0,1295.7 997.0,1296.1 999.0,1296.2 1001.0,1295.5 1003.0,1295.7 1005.0,1295.4 1007.0,1295.4 1009.0,1295.5 1011.0,1296.2 1013.0,1296.2 1015.0,1295.6 1017.0,1295.9 1019.0,1296.0 1021.0,1295.8 1023.0,1296.2 1025.0,1295.5 1027.0,1295.7 1029.0,1295.5 1031.0,1296.3 1033.0,1296.2 1035.0,1295.8 1037.0,1295.5 1039.0,1296.2 1041.0,1296.1 1043.0,1296.2 1045.0,1296.2 1047.0,1296.0 1049.0,1295.8 1051.0,1296.1 1053.0,1295.5 1055.0,1296.1 1057.0,1295.6 1059.0,1295.7 1061.0,1296.1 1063.0,1295.3 1065.0,1295.6 1067.0,1296.0 1069.0,1295.7 1071.0,1296.1 1073.0,1295.9 1075.0,1295.5 1077.0,1295.7 1079.0,1295.6 1081.0,1295.8 1083.0,1295.9 1085.0,1295.7 1087.0,1295.3 1089.0,1296.0 1091.0,1295.4 1093.0,1295.8 1095.0,1295.9 1097.0,1295.6 1099.0,1295.2 1101.0,1295.7 1103.0,1295.2 1105.0,1295.3 1107.0,1295.3 1109.0,1295.3 1111.0,1295.6 1113.0,1295.8 1115.0,1295.5 1117.0,1295.9 1119.0,1295.1 1121.0,1295.4 1123.0,1295.4 1125.0,1295.5 1127.0,1295.7 1129.0,1295.3 1131.0,1295.4 1133.0,1295.4 1135.0,1295.3 1137.0,1295.1 1139.0,1295.7 1141.0,1295.0 1143.0,1295.4 1145.0,1295.2 1147.0,1295.3 1149.0,1295.6 1151.0,1295.7 1153.0,1295.7 1155.0,1295.5 1157.0,1295.2 1159.0,1294.9 1161.0,1295.0 1163.0,1295.7 1165.0,1295.2 1167.0,1295.2 1169.0,1295.2 1171.0,1295.2 1173.0,1295.0 1175.0,1295.1 1177.0,1295.3 1179.0,1295.2 1181.0,1294.9 1183.0,1294.9 1185.0,1294.8 1187.0,1295.2 1189.0,1295.4 1191.0,1295.6 1193.0,1295.1 1195.0,1295.3 1197.0,1295.5 1199.0,1295.2 1201.0,1295.2 1203.0,1294.9 1205.0,1295.4 1207.0,1295.4 1209.0,1295.1 1211.0,1295.4 1213.0,1295.0 1215.0,1294.9 1217.0,1295.1 1219.0,1295.3 1221.0,1295.2 1223.0,1295.0 1225.0,1295.7 1227.0,1295.5 1229.0,1295.1 1231.0,1294.9 1233.0,1295.5 1235.0,1295.7 1237.0,1295.5 1239.0,1295.5 1241.0,1295.7 1243.0,1295.5 1245.0,1295.0 1247.0,1295.3 1249.0,1295.3 1251.0,1295.4 1253.0,1295.1 1255.0,1295.5 1257.0,1295.6 1259.0,1295.2 1261.0,1295.5 1263.0,1295.3 1265.0,1295.6 1267.0,1295.4 1269.0,1295.8 1271.0,1295.4 1273.0,1295.0 1275.0,1295.0 1277.0,1295.6 1279.0,1295.1 1281.0,1295.7 1283.0,1295.5 1285.0,1295.3 1287.0,1295.4 1289.0,1295.8 1291.0,1295.5 1293.0,1295.4 1295.0,1295.5 1297.0,1295.6 1299.0,1295.5 1301.0,1295.7 1303.0,1295.4 1305.0,1295.3 1307.0,1295.2 1309.0,1295.5 1311.0,1295.3 1313.0,1295.3 1315.0,1295.3 1317.0,1295.4 1319.0,1295.9 1321.0,1295.6 1323.0,1295.4 1325.0,1295.6 1327.0,1295.6 1329.0,1295.2 1331.0,1295.9 1333.0,1295.6 1335.0,1296.1 1337.0,1295.7 1339.0,1295.4 1341.0,1296.1 1343.0,1295.3 1345.0,1295.3 1347.0,1295.3 1349.0,1295.4 1351.0,1295.3 1353.0,1296.0 1355.0,1295.4 1357.0,1295.7 1359.0,1295.4 1361.0,1295.5 1363.0,1295.3 1365.0,1295.6 1367.0,1295.5 1369.0,1295.9 1371.0,1296.2 1373.0,1295.5 1375.0,1295.7 1377.0,1295.9 1379.0,1296.2 1381.0,1295.4 1383.0,1295.9 1385.0,1295.7 1387.0,1295.8 1389.0,1296.0 1391.0,1296.0 1393.0,1295.7 1395.0,1296.1 1397.0,1295.9 1399.0,1295.6 1554.0,1296.3 1886.0,1297.7 1886.0,1304.3 1554.0,1302.9 1399.0,1302.0 1397.0,1302.5 1395.0,1302.6 1393.0,1302.3 1391.0,1302.8 1389.0,1302.8 1387.0,1302.3 1385.0,1302.1 1383.0,1302.8 1381.0,1302.4 1379.0,1302.2 1377.0,1302.7 1375.0,1302.2 1373.0,1302.4 1371.0,1302.4 1369.0,1302.1 1367.0,1302.5 1365.0,1302.6 1363.0,1302.7 1361.0,1302.5 1359.0,1302.3 1357.0,1302.2 1355.0,1302.1 1353.0,1302.5 1351.0,1302.0 1349.0,1302.3 1347.0,1302.2 1345.0,1302.5 1343.0,1302.1 1341.0,1302.5 1339.0,1302.5 1337.0,1302.2 1335.0,1302.6 1333.0,1302.5 1331.0,1302.5 1329.0,1302.5 1327.0,1302.2 1325.0,1302.0 1323.0,1302.3 1321.0,1302.2 1319.0,1302.1 1317.0,1302.1 1315.0,1302.2 1313.0,1302.1 1311.0,1302.0 1309.0,1301.8 1307.0,1302.0 1305.0,1302.2 1303.0,1302.0 1301.0,1301.8 1299.0,1302.5 1297.0,1302.3 1295.0,1302.4 1293.0,1301.7 1291.0,1302.0 1289.0,1302.2 1287.0,1301.6 1285.0,1302.1 1283.0,1302.3 1281.0,1301.9 1279.0,1302.5 1277.0,1302.2 1275.0,1301.8 1273.0,1302.4 1271.0,1301.9 1269.0,1302.3 1267.0,1301.9 1265.0,1302.2 1263.0,1301.7 1261.0,1301.9 1259.0,1302.0 1257.0,1302.0 1255.0,1302.0 1253.0,1301.7 1251.0,1302.0 1249.0,1302.1 1247.0,1301.8 1245.0,1301.5 1243.0,1302.3 1241.0,1301.7 1239.0,1301.8 1237.0,1301.7 1235.0,1302.1 1233.0,1301.7 1231.0,1302.0 1229.0,1301.9 1227.0,1301.6 1225.0,1302.2 1223.0,1302.0 1221.0,1301.7 1219.0,1301.6 1217.0,1301.8 1215.0,1302.0 1213.0,1302.3 1211.0,1302.0 1209.0,1302.1 1207.0,1301.4 1205.0,1301.8 1203.0,1301.5 1201.0,1301.4 1199.0,1302.1 1197.0,1301.4 1195.0,1301.9 1193.0,1302.2 1191.0,1301.8 1189.0,1301.5 1187.0,1301.7 1185.0,1301.6 1183.0,1302.2 1181.0,1301.8 1179.0,1302.0 1177.0,1302.0 1175.0,1302.1 1173.0,1302.3 1171.0,1302.2 1169.0,1302.1 1167.0,1301.7 1165.0,1302.2 1163.0,1302.0 1161.0,1301.8 1159.0,1302.1 1157.0,1301.9 1155.0,1301.8 1153.0,1301.6 1151.0,1301.8 1149.0,1301.7 1147.0,1302.1 1145.0,1302.0 1143.0,1301.8 1141.0,1301.8 1139.0,1302.3 1137.0,1301.9 1135.0,1301.8 1133.0,1302.5 1131.0,1301.9 1129.0,1301.8 1127.0,1302.0 1125.0,1301.7 1123.0,1302.2 1121.0,1301.8 1119.0,1302.1 1117.0,1301.8 1115.0,1302.4 1113.0,1302.2 1111.0,1302.1 1109.0,1302.3 1107.0,1302.5 1105.0,1302.2 1103.0,1302.2 1101.0,1302.6 1099.0,1302.7 1097.0,1302.0 1095.0,1302.1 1093.0,1302.3 1091.0,1302.1 1089.0,1302.2 1087.0,1302.1 1085.0,1302.3 1083.0,1302.6 1081.0,1302.3 1079.0,1302.7 1077.0,1302.1 1075.0,1302.5 1073.0,1302.2 1071.0,1302.4 1069.0,1301.9 1067.0,1302.3 1065.0,1302.3 1063.0,1302.4 1061.0,1302.4 1059.0,1302.0 1057.0,1302.6 1055.0,1302.4 1053.0,1302.8 1051.0,1302.4 1049.0,1302.1 1047.0,1302.7 1045.0,1302.1 1043.0,1302.0 1041.0,1302.5 1039.0,1302.2 1037.0,1302.1 1035.0,1302.8 1033.0,1302.4 1031.0,1302.1 1029.0,1302.6 1027.0,1302.5 1025.0,1302.8 1023.0,1302.8 1021.0,1302.4 1019.0,1302.2 1017.0,1302.7 1015.0,1302.8 1013.0,1302.5 1011.0,1302.2 1009.0,1302.8 1007.0,1302.7 1005.0,1302.0 1003.0,1302.1 1001.0,1302.0 999.0,1302.8 997.0,1301.9 995.0,1302.6 993.0,1302.6 991.0,1302.1 989.0,1302.5 987.0,1302.2 985.0,1302.1 983.0,1301.8 981.0,1302.0 979.0,1302.6 977.0,1302.3 975.0,1302.4 973.0,1301.8 971.0,1302.3 969.0,1302.1 967.0,1302.6 965.0,1301.9 963.0,1302.3 961.0,1302.4 959.0,1302.2 957.0,1302.0 955.0,1302.4 953.0,1302.3 951.0,1302.1 949.0,1302.1 947.0,1302.4 945.0,1302.1 943.0,1301.7 941.0,1302.3 939.0,1302.0 937.0,1302.0 935.0,1302.1 933.0,1302.2 931.0,1302.2 929.0,1302.1 927.0,1301.8 925.0,1302.4 923.0,1301.7 921.0,1301.9 919.0,1302.0 917.0,1301.6 915.0,1302.0 913.0,1301.7 911.0,1301.8 909.0,1301.8 907.0,1301.7 905.0,1302.1 903.0,1302.2 901.0,1301.5 899.0,1302.3 897.0,1301.4 895.0,1301.5 893.0,1301.7 891.0,1301.4 889.0,1301.8 887.0,1301.5 885.0,1301.8 883.0,1301.6 881.0,1302.4 879.0,1302.4 877.0,1301.9 875.0,1302.0 873.0,1302.5 871.0,1302.7 869.0,1302.3 867.0,1302.3 865.0,1302.2 863.0,1302.9 861.0,1303.0 859.0,1303.0 857.0,1302.9 855.0,1303.3 853.0,1302.5 851.0,1302.6 849.0,1303.3 847.0,1303.2 845.0,1302.7 843.0,1303.1 841.0,1302.8 839.0,1303.2 837.0,1303.3 835.0,1303.2 833.0,1302.7 831.0,1302.9 829.0,1302.7 827.0,1303.0 825.0,1303.0 823.0,1303.3 821.0,1302.9 819.0,1302.8 817.0,1302.7 815.0,1302.9 813.0,1302.5 811.0,1302.6 809.0,1302.9 807.0,1302.6 805.0,1302.8 803.0,1303.0 801.0,1302.5 799.0,1302.6 797.0,1303.2 795.0,1302.5 793.0,1302.7 791.0,1302.5 789.0,1302.6 787.0,1303.3 785.0,1302.6 783.0,1303.0 781.0,1302.9 779.0,1302.7 777.0,1302.6 775.0,1302.8 773.0,1302.5 771.0,1302.7 769.0,1303.3 767.0,1302.5 765.0,1303.2 763.0,1302.7 761.0,1302.6 759.0,1303.1 757.0,1302.5 755.0,1302.8 753.0,1302.2 751.0,1302.4 749.0,1302.8 747.0,1302.4 745.0,1302.8 743.0,1302.7 741.0,1302.6 739.0,1302.2 737.0,1302.1 735.0,1302.6 733.0,1302.2 731.0,1301.9 729.0,1302.2 727.0,1302.4 725.0,1302.4 723.0,1301.7 721.0,1302.1 719.0,1302.2 717.0,1301.9 715.0,1301.9 713.0,1301.7 711.0,1301.7 709.0,1301.9 707.0,1302.1 705.0,1301.6 703.0,1301.5 701.0,1302.0 699.0,1301.4 697.0,1301.2 695.0,1301.3 693.0,1301.7 691.0,1300.9 689.0,1301.5 687.0,1301.6 685.0,1301.6 683.0,1301.0 681.0,1301.5 679.0,1301.3 677.0,1301.4 675.0,1300.7 673.0,1300.8 671.0,1301.4 669.0,1300.6 667.0,1300.9 665.0,1301.2 663.0,1300.8 661.0,1301.0 659.0,1300.6 657.0,1301.0 655.0,1301.0 653.0,1300.2 651.0,1300.5 649.0,1300.0 647.0,1300.1 645.0,1300.6 643.0,1300.4 641.0,1300.3 639.0,1300.3 637.0,1299.8 635.0,1300.4 633.0,1300.2 631.0,1300.3 629.0,1299.8 627.0,1300.1 625.0,1299.8 623.0,1300.0 621.0,1299.9 619.0,1299.5 617.0,1299.5 615.0,1299.2 613.0,1299.5 611.0,1299.5 609.0,1299.3 607.0,1298.9 605.0,1299.4 603.0,1298.9 601.0,1298.7 599.0,1299.0 597.0,1298.8 595.0,1299.1 593.0,1298.6 591.0,1299.3 589.0,1298.6 587.0,1298.7 585.0,1298.7 583.0,1298.6 581.0,1298.6 579.0,1298.6 577.0,1298.7 575.0,1298.1 573.0,1298.0 571.0,1298.5 569.0,1298.0 567.0,1298.6 565.0,1298.5 563.0,1298.0 561.0,1298.1 559.3,1298.5 558.0,1298.2 556.7,1299.4 555.4,1298.5 554.1,1299.3 552.8,1298.7 551.5,1298.2 550.2,1299.5 548.9,1299.2 547.6,1298.8 546.3,1299.1 545.0,1298.9 543.7,1299.8 542.4,1299.2 541.1,1298.7 539.8,1300.1 538.5,1299.2 537.2,1299.3 535.9,1300.1 534.6,1300.3 533.3,1300.5 532.0,1300.2 530.7,1300.3 529.4,1300.7 528.1,1300.4 526.8,1300.9 525.5,1300.3 524.2,1300.4 522.9,1300.0 521.6,1299.5 520.3,1299.9 519.0,1300.3 517.7,1299.6 516.4,1300.6 515.1,1300.1 513.8,1299.5 512.5,1299.7 511.2,1299.6 509.9,1300.3 508.6,1299.1 507.3,1299.5 506.0,1299.2 504.7,1298.6 503.4,1299.5 502.1,1300.0 500.8,1299.7 499.5,1299.3 498.2,1299.5 496.9,1298.8 495.6,1300.1 494.3,1299.8 493.0,1299.1 491.7,1299.7 490.4,1299.2 489.1,1300.7 487.8,1299.4 486.5,1299.9 485.2,1300.8 483.9,1300.8 482.6,1300.5 481.3,1301.0 480.0,1301.1 478.7,1300.5 477.4,1300.4 476.1,1301.1 474.8,1300.6 473.5,1301.2 472.2,1301.8 470.9,1300.8 469.6,1301.9 468.3,1301.4 467.0,1301.3 465.7,1301.4 464.4,1300.8 463.1,1300.5 461.8,1301.1 460.5,1300.9 459.2,1299.7 457.9,1299.8 456.6,1300.0 455.3,1300.2 454.0,1300.8 452.7,1300.4 451.4,1299.9 450.1,1301.0 448.8,1303.0 447.5,1302.1 446.2,1303.6 444.9,1302.9 443.6,1303.1 442.3,1304.4 441.0,1304.2 439.7,1303.8 438.4,1304.6 437.1,1305.1 435.8,1304.6 434.5,1304.6 433.2,1304.9 431.9,1304.3 430.6,1304.3 429.3,1304.0 428.0,1304.5 426.7,1304.8 425.4,1303.5 424.1,1304.7 422.8,1303.5 421.5,1304.4 420.2,1304.1 418.9,1302.9 417.6,1302.8 416.3,1303.4 415.0,1302.2 413.7,1302.4 412.4,1302.7 411.1,1302.0 409.8,1303.2 408.5,1302.2 407.2,1302.6 405.9,1303.7 404.6,1303.6 403.3,1303.3 402.0,1304.1 400.7,1303.2 399.4,1303.9 398.1,1304.2 396.8,1303.2 395.5,1303.9 394.2,1302.4 392.9,1303.8 391.6,1303.0 390.3,1303.5 389.0,1302.6 387.7,1301.9 386.4,1302.7 385.1,1301.8 383.8,1302.0 382.5,1301.2 381.2,1301.7 379.9,1301.6 378.6,1303.5 377.3,1302.5 376.0,1303.0 374.7,1304.2 373.4,1305.7 372.1,1306.0 370.8,1307.6 369.5,1306.8 368.2,1306.9 366.9,1308.3 365.6,1307.1 364.3,1307.3 363.0,1307.1 361.7,1307.1 360.4,1307.1 359.1,1307.2 357.8,1306.8 356.5,1307.1 355.2,1307.2 353.9,1308.2 352.6,1307.9 351.3,1306.6 350.0,1306.5 348.7,1306.2 347.4,1305.5 346.1,1305.2 344.8,1304.3 343.5,1303.4 342.2,1303.5 340.9,1303.5 339.6,1304.4 338.3,1304.4 337.0,1305.1 335.7,1305.4 334.4,1304.4 333.1,1304.8 331.8,1305.3 330.5,1305.5 329.2,1305.5 327.9,1305.9 326.6,1305.6 325.3,1306.2 324.0,1306.9 322.7,1307.1 321.4,1306.2 320.1,1305.2 318.8,1304.5 317.5,1304.5 316.2,1304.2 314.9,1303.4 313.6,1305.9 312.3,1308.5 311.0,1307.3 309.7,1307.3 308.4,1306.4 307.1,1305.9 305.8,1305.4 304.5,1305.9 303.2,1304.8 301.9,1304.5 300.6,1304.1 299.3,1304.3 298.0,1305.1 296.7,1305.8 295.4,1306.5 294.1,1306.0 292.8,1306.8 291.5,1305.9 290.2,1306.3 288.9,1305.3 287.6,1305.1 286.3,1305.9 285.0,1307.3 283.7,1307.8 282.4,1308.3 281.1,1309.5 279.8,1308.6 278.5,1307.6 277.2,1306.5 275.9,1306.2 274.6,1305.3 273.3,1304.8 272.0,1305.0 270.7,1303.8 269.4,1304.1 268.1,1303.2 266.8,1301.5 265.5,1302.1 264.2,1300.0 262.9,1299.1 261.6,1296.0 260.3,1294.9 259.0,1292.5 257.7,1290.1 256.4,1286.9 255.1,1293.9 253.8,1293.2 252.5,1293.9 251.2,1294.9 249.9,1298.6 248.6,1300.8 247.3,1300.6 246.0,1301.3 244.7,1302.0 243.4,1298.8"/>
<polygon fill="#77ac30" points="243.3,1225 246.0,1225 247.2,1250 249.2,1252 249.6,1302 243.3,1300"/>
<rect x="1139.0" y="376.3" width="732.9" height="470.1" fill="#fff"/>
<rect x="1136.10" y="372.95" width="738.70" height="6.70" fill="#262626"/>
<rect x="1136.10" y="843.05" width="738.70" height="6.70" fill="#262626"/>
<rect x="1136.10" y="372.95" width="5.80" height="476.80" fill="#262626"/>
<rect x="1869.00" y="372.95" width="5.80" height="476.80" fill="#262626"/>
<line x1="1187.1" x2="1277.2" y1="427.5" y2="427.5" stroke="#0072bd" stroke-width="6.8"/>
<text class="t" font-size="100" style="fill:#000" transform="translate(1284.10,456.90) scale(0.7350,0.8230)">LE1=</text>
<text class="t" font-size="100" style="fill:#000" transform="translate(1474.92,457.20) scale(0.7205,0.8380)">0.312401</text>
<line x1="1187.1" x2="1277.2" y1="519.6" y2="519.6" stroke="#d95319" stroke-width="6.8"/>
<text class="t" font-size="100" style="fill:#000" transform="translate(1284.10,549.50) scale(0.7350,0.8230)">LE2=</text>
<text class="t" font-size="100" style="fill:#000" transform="translate(1474.85,549.80) scale(0.7377,0.8380)">0.117056</text>
<line x1="1187.1" x2="1277.2" y1="611.2" y2="611.2" stroke="#edb120" stroke-width="6.8"/>
<text class="t" font-size="100" style="fill:#000" transform="translate(1284.10,641.30) scale(0.7350,0.8230)">LE3=</text>
<text class="t" font-size="100" style="fill:#000" transform="translate(1472.79,641.60) scale(0.7295,0.8380)">−0.006177</text>
<line x1="1187.1" x2="1277.2" y1="702.8" y2="702.8" stroke="#7e2f8e" stroke-width="6.8"/>
<text class="t" font-size="100" style="fill:#000" transform="translate(1284.10,732.60) scale(0.7350,0.8230)">LE4=</text>
<text class="t" font-size="100" style="fill:#000" transform="translate(1472.81,732.90) scale(0.7250,0.8380)">−0.415351</text>
<line x1="1187.1" x2="1277.2" y1="795.2" y2="795.2" stroke="#77ac30" stroke-width="6.8"/>
<text class="t" font-size="100" style="fill:#000" transform="translate(1284.10,824.20) scale(0.7350,0.8230)">LE5=</text>
<text class="t" font-size="100" style="fill:#000" transform="translate(1472.74,824.50) scale(0.7381,0.8380)">−11.822570</text>
<text class="t" font-size="100" text-anchor="middle" transform="translate(237.60,1685.30) scale(0.7330,0.8500)">0</text>
<text class="t" font-size="100" text-anchor="middle" transform="translate(566.50,1685.30) scale(0.7330,0.8500)">200</text>
<text class="t" font-size="100" text-anchor="middle" transform="translate(896.50,1685.30) scale(0.7330,0.8500)">400</text>
<text class="t" font-size="100" text-anchor="middle" transform="translate(1226.20,1685.30) scale(0.7330,0.8500)">600</text>
<text class="t" font-size="100" text-anchor="middle" transform="translate(1555.50,1685.30) scale(0.7330,0.8500)">800</text>
<text class="t" font-size="100" text-anchor="middle" transform="translate(1885.50,1685.30) scale(0.7330,0.8500)">1000</text>
<text class="t" font-size="100" text-anchor="end" transform="translate(216.80,1525.14) scale(0.7330,0.8500)">-14</text>
<text class="t" font-size="100" text-anchor="end" transform="translate(216.80,1345.02) scale(0.7330,0.8500)">-12</text>
<text class="t" font-size="100" text-anchor="end" transform="translate(216.80,1164.91) scale(0.7330,0.8500)">-10</text>
<text class="t" font-size="100" text-anchor="end" transform="translate(216.80,984.79) scale(0.7330,0.8500)">-8</text>
<text class="t" font-size="100" text-anchor="end" transform="translate(216.80,804.67) scale(0.7330,0.8500)">-6</text>
<text class="t" font-size="100" text-anchor="end" transform="translate(216.80,624.55) scale(0.7330,0.8500)">-4</text>
<text class="t" font-size="100" text-anchor="end" transform="translate(216.80,444.44) scale(0.7330,0.8500)">-2</text>
<text class="t" font-size="100" text-anchor="end" transform="translate(216.80,264.32) scale(0.7330,0.8500)">0</text>
<text class="t" font-size="100" text-anchor="end" transform="translate(216.80,84.20) scale(0.7330,0.8500)">2</text>
<text class="t" font-size="100" text-anchor="middle" transform="translate(1062.30,1786.30) scale(0.7980,0.9100)">Time</text>
<text class="t" font-size="100" text-anchor="middle" transform="translate(96.20,822.20) rotate(-90) scale(0.9050,0.8180)">Lyapuov Exponents</text>
</svg>
</body></html>
